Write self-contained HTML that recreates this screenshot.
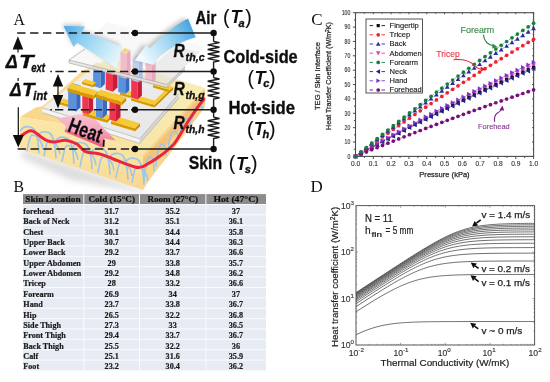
<!DOCTYPE html>
<html><head><meta charset="utf-8"><title>Figure</title>
<style>html,body{margin:0;padding:0;background:#fff;} svg{display:block;}</style></head>
<body><svg width="550" height="382" viewBox="0 0 550 382">
<rect width="550" height="382" fill="#fff"/>
<defs><filter id="soft" x="0" y="0" width="100%" height="100%"><feGaussianBlur stdDeviation="0.42"/></filter></defs>
<g filter="url(#soft)">
<rect width="550" height="382" fill="#fff"/>
<defs><filter id="blur3" x="-20%" y="-20%" width="140%" height="140%"><feGaussianBlur stdDeviation="3"/></filter><filter id="blur1" x="-20%" y="-20%" width="140%" height="140%"><feGaussianBlur stdDeviation="1.2"/></filter><filter id="blur2" x="-30%" y="-30%" width="160%" height="160%"><feGaussianBlur stdDeviation="2.2"/></filter><linearGradient id="skinFront" x1="0" y1="0" x2="0" y2="1"><stop offset="0" stop-color="#fae6a6"/><stop offset="0.6" stop-color="#fae2a0"/><stop offset="1" stop-color="#f8d690"/></linearGradient><linearGradient id="skinTop" gradientUnits="userSpaceOnUse" x1="30" y1="110" x2="190" y2="95"><stop offset="0" stop-color="#f9d68a"/><stop offset="0.5" stop-color="#f9e2a0"/><stop offset="1" stop-color="#f7ecb4"/></linearGradient><linearGradient id="skinRight" x1="0" y1="0" x2="1" y2="0"><stop offset="0" stop-color="#f8d890"/><stop offset="1" stop-color="#f7d088"/></linearGradient><linearGradient id="arrL" gradientUnits="userSpaceOnUse" x1="66" y1="28" x2="118" y2="62"><stop offset="0" stop-color="#52aee8"/><stop offset="0.3" stop-color="#8ccef2"/><stop offset="0.75" stop-color="#c8eaf8"/><stop offset="1" stop-color="#e8f6fc"/></linearGradient><linearGradient id="arrR" gradientUnits="userSpaceOnUse" x1="192" y1="26" x2="142" y2="58"><stop offset="0" stop-color="#48a4e0"/><stop offset="0.45" stop-color="#9cd4f2"/><stop offset="1" stop-color="#f2fafe"/></linearGradient><linearGradient id="pinkA" x1="0" y1="0" x2="0" y2="1"><stop offset="0" stop-color="#f8c4d2"/><stop offset="0.5" stop-color="#f5a6bc"/><stop offset="1" stop-color="#ee6a8c"/></linearGradient><linearGradient id="plateTop" x1="0" y1="0" x2="1" y2="1"><stop offset="0" stop-color="#f2f2f2"/><stop offset="1" stop-color="#e6e6e6"/></linearGradient></defs>
<polygon points="22.0,149.0 143.0,190.0 150.0,194.0 70.0,180.0 22.0,158.0" fill="#c8c8c8" filter="url(#blur3)" opacity="0.6"/>
<polygon points="20.0,117.0 61.0,123.5 143.0,154.0 205.0,88.0 110.0,58.0 82.0,71.0 50.0,100.0 42.0,106.5 36.0,107.2" fill="url(#skinTop)" />
<polygon points="20.0,117.0 61.0,123.5 143.0,154.0 143.0,190.0 20.0,149.0" fill="url(#skinFront)" />
<polygon points="143.0,154.0 205.0,88.0 205.0,107.0 182.0,138.0 150.0,179.0 143.0,190.0" fill="url(#skinRight)" />
<polygon points="143.0,158.0 205.0,92.0 205.0,101.0 143.0,172.0" fill="#f3b468" opacity="0.55"/>
<path d="M20.0,131.3 C23.0,126.3 28.0,126.3 31.0,127.3 C35.0,128.3 38.0,133.3 39.0,153.3M27.0,151.3 C30.0,134.3 31.0,134.3 34.0,135.3 C38.0,136.3 42.0,141.3 43.0,149.3M37.0,136.4 C40.0,131.4 45.0,131.4 48.0,132.4 C52.0,133.4 55.0,138.4 56.0,158.4M44.0,156.4 C47.0,139.4 48.0,139.4 51.0,140.4 C55.0,141.4 59.0,146.4 60.0,154.4M55.0,141.8 C58.0,136.8 63.0,136.8 66.0,137.8 C70.0,138.8 73.0,143.8 74.0,163.8M62.0,161.8 C65.0,144.8 66.0,144.8 69.0,145.8 C73.0,146.8 77.0,151.8 78.0,159.8M73.0,147.2 C76.0,142.2 81.0,142.2 84.0,143.2 C88.0,144.2 91.0,149.2 92.0,169.2M80.0,167.2 C83.0,150.2 84.0,150.2 87.0,151.2 C91.0,152.2 95.0,157.2 96.0,165.2M91.0,152.6 C94.0,147.6 99.0,147.6 102.0,148.6 C106.0,149.6 109.0,154.6 110.0,174.6M98.0,172.6 C101.0,155.6 102.0,155.6 105.0,156.6 C109.0,157.6 113.0,162.6 114.0,170.6M109.0,158.0 C112.0,153.0 117.0,153.0 120.0,154.0 C124.0,155.0 127.0,160.0 128.0,180.0M116.0,178.0 C119.0,161.0 120.0,161.0 123.0,162.0 C127.0,163.0 131.0,168.0 132.0,176.0M125.0,162.8 C128.0,157.8 133.0,157.8 136.0,158.8 C140.0,159.8 143.0,164.8 144.0,184.8M132.0,182.8 C135.0,165.8 136.0,165.8 139.0,166.8 C143.0,167.8 147.0,172.8 148.0,180.8M144.0,182.4 C145.0,161.9 148.0,155.9 151.0,156.9 C154.0,158.9 154.0,165.4 154.0,171.4M156.0,166.9 C157.0,149.1 160.0,143.1 163.0,144.1 C166.0,146.1 166.0,149.9 166.0,155.9M168.0,151.5 C169.0,136.3 172.0,130.3 175.0,131.3 C178.0,133.3 178.0,134.5 178.0,140.5M180.0,136.0 C181.0,123.5 184.0,117.5 187.0,118.5 C190.0,120.5 190.0,119.0 190.0,125.0M192.0,120.5 C193.0,110.8 196.0,104.8 199.0,105.8 C202.0,107.8 202.0,103.5 202.0,109.5" stroke="#9ec6ec" stroke-width="1.6" fill="none"/>
<path d="M21,136 C25,133 28,130.5 31,130.7 C35,131 38,135 42.5,138 C47,141 51,142.5 55,142 C59,141.5 62,140 65.5,140.3 C70,141 74,142.5 77,144 C80,146 82,150 85,151.3 C89,153 92,152.8 96,153.2 C102,154 106,156 112,158.5 C120,161.5 128,165 135,167 C140,168.5 143,167 146,165 C151,162 155,160 160,156 C166,152 170,148 174,144 C180,136 186,124 191,117 C195,111 199,105 204,99" stroke="#e8283c" stroke-width="3" fill="none" stroke-linecap="round"/>
<polygon points="42.4,107.9 139.7,138.8 179.0,93.5 95.0,66.0" fill="url(#plateTop)" />
<polygon points="42.4,107.9 139.7,138.8 139.7,143.5 42.4,112.6" fill="#f4f4f4" />
<polygon points="139.7,138.8 179.0,93.5 179.0,98.0 139.7,143.5" fill="#d6d6d6" />
<path d="M42.4,112.6 L139.7,143.5 L179,98 M42.4,107.9 L139.7,138.8 L179,93.5" stroke="#a8a8a8" stroke-width="0.6" fill="none"/>
<path d="M56.5,118.5 L89,112.5 L115.5,140.5 L104,138.5 L102.2,147.5 L64.6,131.7 L65.9,126 Z" fill="url(#pinkA)"/>
<path d="M64.6,131.7 L102.2,147 L102.6,144 L65.6,129 Z" fill="#ee5a80" opacity="0.8"/>
<polygon points="60.0,104.5 69.0,107.2 69.0,104.6 60.0,101.9" fill="#d99a00" /><polygon points="69.0,107.2 72.5,103.8 72.5,101.2 69.0,104.6" fill="#c88c00" /><polygon points="60.0,101.9 69.0,104.6 72.5,101.2 63.5,98.5" fill="#f7c935" />
<polygon points="83.0,115.5 107.0,122.7 107.0,119.7 83.0,112.5" fill="#d99a00" /><polygon points="107.0,122.7 111.0,118.8 111.0,115.8 107.0,119.7" fill="#c88c00" /><polygon points="83.0,112.5 107.0,119.7 111.0,115.8 87.0,108.6" fill="#f7c935" />
<polygon points="111.0,124.0 135.0,131.2 135.0,128.2 111.0,121.0" fill="#d99a00" /><polygon points="135.0,131.2 140.0,126.3 140.0,123.3 135.0,128.2" fill="#c88c00" /><polygon points="111.0,121.0 135.0,128.2 140.0,123.3 116.0,116.2" fill="#f7c935" />
<polygon points="131.0,100.5 152.0,106.8 152.0,104.2 131.0,97.9" fill="#d99a00" /><polygon points="152.0,106.8 155.5,103.4 155.5,100.8 152.0,104.2" fill="#c88c00" /><polygon points="131.0,97.9 152.0,104.2 155.5,100.8 134.5,94.5" fill="#f7c935" />
<polygon points="151.0,106.5 154.5,107.5 154.5,105.0 151.0,103.9" fill="#d99a00" /><polygon points="154.5,107.5 172.5,90.1 172.5,87.5 154.5,105.0" fill="#c88c00" /><polygon points="151.0,103.9 154.5,105.0 172.5,87.5 169.0,86.4" fill="#f7c935" />
<polygon points="153.0,87.5 170.0,92.6 170.0,90.0 153.0,84.9" fill="#d99a00" /><polygon points="170.0,92.6 173.0,89.7 173.0,87.1 170.0,90.0" fill="#c88c00" /><polygon points="153.0,84.9 170.0,90.0 173.0,87.1 156.0,82.0" fill="#f7c935" />
<polygon points="120.0,95.0 130.0,98.0 130.0,95.4 120.0,92.4" fill="#d99a00" /><polygon points="130.0,98.0 133.5,94.6 133.5,92.0 130.0,95.4" fill="#c88c00" /><polygon points="120.0,92.4 130.0,95.4 133.5,92.0 123.5,89.0" fill="#f7c935" />
<polygon points="93.1,86.0 100.6,88.2 100.6,72.2 93.1,70.0" fill="#5a92e0" /><polygon points="100.6,88.2 104.9,84.1 104.9,68.1 100.6,72.2" fill="#3b6bc2" /><polygon points="93.1,70.0 100.6,72.2 104.9,68.1 97.4,65.8" fill="#86aef0" />
<polygon points="105.7,89.5 113.0,91.7 113.0,74.7 105.7,72.5" fill="#f2364f" /><polygon points="113.0,91.7 117.5,87.3 117.5,70.3 113.0,74.7" fill="#c91f3a" /><polygon points="105.7,72.5 113.0,74.7 117.5,70.3 110.2,68.1" fill="#f7788a" />
<polygon points="118.3,92.0 125.3,94.1 125.3,77.1 118.3,75.0" fill="#5a92e0" /><polygon points="125.3,94.1 129.3,90.2 129.3,73.2 125.3,77.1" fill="#3b6bc2" /><polygon points="118.3,75.0 125.3,77.1 129.3,73.2 122.3,71.1" fill="#86aef0" />
<polygon points="131.2,97.5 137.7,99.5 137.7,81.0 131.2,79.0" fill="#f2364f" /><polygon points="137.7,99.5 141.9,95.4 141.9,76.9 137.7,81.0" fill="#c91f3a" /><polygon points="131.2,79.0 137.7,81.0 141.9,76.9 135.4,74.9" fill="#f7788a" />
<polygon points="92.0,66.0 137.0,78.5 141.0,75.0 96.0,62.5" fill="#eed68a" />
<polygon points="92.0,66.0 137.0,78.5 137.0,80.5 92.0,68.0" fill="#e2c270" />
<polygon points="68.2,109.0 76.2,111.4 76.2,89.4 68.2,87.0" fill="#5a92e0" /><polygon points="76.2,111.4 80.4,107.3 80.4,85.3 76.2,89.4" fill="#3b6bc2" /><polygon points="68.2,87.0 76.2,89.4 80.4,85.3 72.4,82.9" fill="#86aef0" />
<polygon points="82.3,112.4 88.7,114.3 88.7,94.3 82.3,92.4" fill="#f2364f" /><polygon points="88.7,114.3 93.1,110.1 93.1,90.1 88.7,94.3" fill="#c91f3a" /><polygon points="82.3,92.4 88.7,94.3 93.1,90.1 86.7,88.1" fill="#f7788a" />
<polygon points="96.0,116.5 102.5,118.5 102.5,96.5 96.0,94.5" fill="#5a92e0" /><polygon points="102.5,118.5 107.0,114.1 107.0,92.1 102.5,96.5" fill="#3b6bc2" /><polygon points="96.0,94.5 102.5,96.5 107.0,92.1 100.5,90.1" fill="#86aef0" />
<polygon points="109.5,119.5 116.0,121.5 116.0,100.0 109.5,98.0" fill="#f2364f" /><polygon points="116.0,121.5 120.5,117.1 120.5,95.6 116.0,100.0" fill="#c91f3a" /><polygon points="109.5,98.0 116.0,100.0 120.5,95.6 114.0,93.6" fill="#f7788a" />
<polygon points="67.5,91.5 93.5,99.3 93.5,95.8 67.5,88.0" fill="#d99a00" /><polygon points="93.5,99.3 98.1,94.8 98.1,91.3 93.5,95.8" fill="#c88c00" /><polygon points="67.5,88.0 93.5,95.8 98.1,91.3 72.1,83.5" fill="#f7c935" />
<polygon points="96.0,97.8 121.5,105.5 121.5,102.0 96.0,94.3" fill="#d99a00" /><polygon points="121.5,105.5 126.1,101.0 126.1,97.5 121.5,102.0" fill="#c88c00" /><polygon points="96.0,94.3 121.5,102.0 126.1,97.5 100.6,89.8" fill="#f7c935" />
<polygon points="82.0,84.0 93.0,87.3 93.0,85.1 82.0,81.8" fill="#d99a00" /><polygon points="93.0,87.3 96.0,84.4 96.0,82.2 93.0,85.1" fill="#c88c00" /><polygon points="82.0,81.8 93.0,85.1 96.0,82.2 85.0,78.9" fill="#f7c935" />
<polygon points="69.0,60.0 167.0,84.5 205.0,47.0 107.0,22.0" fill="#f2f2f2" opacity="0.55"/>
<polygon points="140.0,78.0 167.0,84.5 200.0,52.0 175.0,46.0" fill="#d8d8d8" opacity="0.35"/>
<polygon points="120.5,77.0 126.5,78.8 126.5,53.8 120.5,52.0" fill="#f2bccb" /><polygon points="126.5,78.8 130.5,74.9 130.5,49.9 126.5,53.8" fill="#e8aabb" /><polygon points="120.5,52.0 126.5,53.8 130.5,49.9 124.5,48.1" fill="#f0d890" />
<polygon points="132.6,80.5 138.6,82.3 138.6,60.8 132.6,59.0" fill="#bed0ee" /><polygon points="138.6,82.3 142.6,78.4 142.6,56.9 138.6,60.8" fill="#a9c0e6" /><polygon points="132.6,59.0 138.6,60.8 142.6,56.9 136.6,55.1" fill="#d4e0f4" />
<polygon points="145.6,82.5 151.6,84.3 151.6,62.3 145.6,60.5" fill="#f2bccb" /><polygon points="151.6,84.3 155.6,80.4 155.6,58.4 151.6,62.3" fill="#e8aabb" /><polygon points="145.6,60.5 151.6,62.3 155.6,58.4 149.6,56.6" fill="#f0d890" />
<polygon points="69.0,60.0 167.0,84.5 167.0,87.5 69.0,63.0" fill="#e4e4e4" opacity="0.85"/>
<polygon points="167.0,84.5 185.0,66.8 185.0,69.8 167.0,87.5" fill="#d0d0d0" opacity="0.85"/>
<path d="M69,60 L167,84.5 L185,66.8 M69,60 L69,63 L167,87.5 L185,69.8 M69,60 L85,49" stroke="#9a9a9a" stroke-width="0.6" fill="none"/>
<path d="M63.6,26 L85,26.5 L82,31.5 C95,36 110,41 121,47 L117,69 C105,60 90,51 77.5,43 L73.5,47 Z" fill="#808080" opacity="0.45" filter="url(#blur2)" transform="translate(-1,-2)"/>
<path d="M63.6,26 L85,26.5 L82,31.5 C95,36 110,41 121,47 L117,69 C105,60 90,51 77.5,43 L73.5,47 Z" fill="url(#arrL)"/>
<path d="M134.9,60.3 L146.4,44.6 L149.5,48.5 C160,38 174,26 188,18.6 L195.7,37.3 C182,41 168,49 157,59 L154,65 Z" fill="#808080" opacity="0.45" filter="url(#blur2)" transform="translate(-3,-1)"/>
<path d="M134.9,60.3 L146.4,44.6 L149.5,48.5 C160,38 174,26 188,18.6 L195.7,37.3 C182,41 168,49 157,59 L154,65 Z" fill="url(#arrR)"/>
<text transform="translate(66.8,131) rotate(20)" font-family="Liberation Sans, Arial, sans-serif" font-weight="bold" font-size="21" fill="#111" stroke="#111" stroke-width="0.3" textLength="34.5" lengthAdjust="spacingAndGlyphs">Heat</text>
<path d="M103.9,139.8 L103.5,146.8" stroke="#111" stroke-width="1.8"/>
<g stroke="#1a1a1a" stroke-width="1.6" fill="none"><path d="M17.2,33H131M55.4,71.5H131M55,109.8H131M17.6,149H131" stroke-dasharray="8.3,4.6"/><path d="M50.3,71.5h1.6M50.3,109.8h1.6" /><path d="M131,33H213.6M131,71.5H213.6M131,109.8H213.6M131,149H213.6" stroke-width="1.4"/></g>
<path d="M213.6,33V41.5M213.6,41.5 L219.5,42.6 L207.7,44.9 L219.5,47.2 L207.7,49.5 L219.5,51.8 L207.7,54.0 L219.5,56.3 L207.7,58.6 L219.5,60.9 L213.6,62.0V71.5V77.8M213.6,77.8 L219.5,79.0 L207.7,81.3 L219.5,83.7 L207.7,86.0 L219.5,88.4 L207.7,90.8 L219.5,93.1 L207.7,95.5 L219.5,97.8 L213.6,99.0V109.8V117.3M213.6,117.3 L219.5,118.5 L207.7,120.8 L219.5,123.2 L207.7,125.5 L219.5,127.9 L207.7,130.3 L219.5,132.6 L207.7,135.0 L219.5,137.3 L213.6,138.5V149" stroke="#1a1a1a" stroke-width="1.4" fill="none" stroke-linejoin="miter"/>
<g fill="#111"><circle cx="135" cy="33" r="3.2"/><circle cx="135" cy="71.5" r="3.2"/><circle cx="135" cy="109.8" r="3.2"/><circle cx="135" cy="149" r="3.2"/><circle cx="213.6" cy="33" r="3.2"/><circle cx="213.6" cy="71.5" r="3.2"/><circle cx="213.6" cy="109.8" r="3.2"/><circle cx="213.6" cy="149" r="3.2"/></g>
<g fill="#111" stroke="none"><path d="M17.9,36.3 L23.3,49.6 L12.6,49.6 Z"/><path d="M18.3,147.6 L23.8,135 L12.8,135 Z"/><path d="M58,73.9 L63.2,86.4 L52.8,86.4 Z"/><path d="M58,108.6 L63.2,94.9 L52.8,94.9 Z"/></g>
<path d="M18,49V52.5M18.1,77.9V81.1M18.3,107.3V136M58,86V95" stroke="#111" stroke-width="1.2"/>
<text x="13.4" y="25.4" font-family="Liberation Serif, Times New Roman, serif" font-size="15.8" fill="#111">A</text>
<text x="5.8" y="67.7" font-family="Liberation Sans, Arial, sans-serif" font-weight="bold" fill="#111" stroke="#111" stroke-width="0.35" font-style="italic" font-size="17.5" textLength="12" lengthAdjust="spacingAndGlyphs">Δ</text>
<text x="19" y="67.7" font-family="Liberation Sans, Arial, sans-serif" font-weight="bold" fill="#111" stroke="#111" stroke-width="0.35" font-style="italic" font-size="17.5" textLength="14.5" lengthAdjust="spacingAndGlyphs">T</text>
<text x="31.2" y="71.9" font-family="Liberation Sans, Arial, sans-serif" font-weight="bold" fill="#111" stroke="#111" stroke-width="0.35" font-style="italic" font-size="13" textLength="13.8" lengthAdjust="spacingAndGlyphs">ext</text>
<text x="10" y="95.5" font-family="Liberation Sans, Arial, sans-serif" font-weight="bold" fill="#111" stroke="#111" stroke-width="0.35" font-style="italic" font-size="17.5" textLength="11.5" lengthAdjust="spacingAndGlyphs">Δ</text>
<text x="22" y="95.5" font-family="Liberation Sans, Arial, sans-serif" font-weight="bold" fill="#111" stroke="#111" stroke-width="0.35" font-style="italic" font-size="17.5" textLength="12.5" lengthAdjust="spacingAndGlyphs">T</text>
<text x="33.3" y="100.2" font-family="Liberation Sans, Arial, sans-serif" font-weight="bold" fill="#111" stroke="#111" stroke-width="0.35" font-style="italic" font-size="13" textLength="13.6" lengthAdjust="spacingAndGlyphs">int</text>
<text x="195.5" y="23.6" font-family="Liberation Sans, Arial, sans-serif" font-weight="bold" fill="#111" stroke="#111" stroke-width="0.35" font-size="17.5" textLength="20.9" lengthAdjust="spacingAndGlyphs">Air</text>
<text x="223.4" y="63.2" font-family="Liberation Sans, Arial, sans-serif" font-weight="bold" fill="#111" stroke="#111" stroke-width="0.35" font-size="17.5" textLength="74.3" lengthAdjust="spacingAndGlyphs">Cold-side</text>
<text x="228.4" y="113.8" font-family="Liberation Sans, Arial, sans-serif" font-weight="bold" fill="#111" stroke="#111" stroke-width="0.35" font-size="17.5" textLength="66.5" lengthAdjust="spacingAndGlyphs">Hot-side</text>
<text x="188.8" y="169.2" font-family="Liberation Sans, Arial, sans-serif" font-weight="bold" fill="#111" stroke="#111" stroke-width="0.35" font-size="17.5" textLength="33.2" lengthAdjust="spacingAndGlyphs">Skin</text>
<text x="223.0" y="24.0" font-family="Liberation Sans, Arial, sans-serif" fill="#111" font-size="19.5" stroke="#111" stroke-width="0.1">(</text><text x="230.5" y="23.2" font-family="Liberation Sans, Arial, sans-serif" font-weight="bold" fill="#111" font-style="italic" font-size="18">T</text><text x="238.6" y="26.5" font-family="Liberation Sans, Arial, sans-serif" font-weight="bold" fill="#111" stroke="#111" stroke-width="0.35" font-style="italic" font-size="11">a</text><text x="245.2" y="24.0" font-family="Liberation Sans, Arial, sans-serif" fill="#111" font-size="19.5" stroke="#111" stroke-width="0.1">)</text>
<text x="247.4" y="84.5" font-family="Liberation Sans, Arial, sans-serif" fill="#111" font-size="19.5" stroke="#111" stroke-width="0.1">(</text><text x="254.6" y="83.7" font-family="Liberation Sans, Arial, sans-serif" font-weight="bold" fill="#111" font-style="italic" font-size="18">T</text><text x="263.3" y="87.0" font-family="Liberation Sans, Arial, sans-serif" font-weight="bold" fill="#111" stroke="#111" stroke-width="0.35" font-style="italic" font-size="11">c</text><text x="269.1" y="84.5" font-family="Liberation Sans, Arial, sans-serif" fill="#111" font-size="19.5" stroke="#111" stroke-width="0.1">)</text>
<text x="247.0" y="135.7" font-family="Liberation Sans, Arial, sans-serif" fill="#111" font-size="19.5" stroke="#111" stroke-width="0.1">(</text><text x="253.7" y="134.9" font-family="Liberation Sans, Arial, sans-serif" font-weight="bold" fill="#111" font-style="italic" font-size="18">T</text><text x="262.5" y="138.2" font-family="Liberation Sans, Arial, sans-serif" font-weight="bold" fill="#111" stroke="#111" stroke-width="0.35" font-style="italic" font-size="11">h</text><text x="269.1" y="135.7" font-family="Liberation Sans, Arial, sans-serif" fill="#111" font-size="19.5" stroke="#111" stroke-width="0.1">)</text>
<text x="228.8" y="170.4" font-family="Liberation Sans, Arial, sans-serif" fill="#111" font-size="19.5" stroke="#111" stroke-width="0.1">(</text><text x="235.9" y="169.6" font-family="Liberation Sans, Arial, sans-serif" font-weight="bold" fill="#111" font-style="italic" font-size="18">T</text><text x="244.8" y="172.9" font-family="Liberation Sans, Arial, sans-serif" font-weight="bold" fill="#111" stroke="#111" stroke-width="0.35" font-style="italic" font-size="11">s</text><text x="251.0" y="170.4" font-family="Liberation Sans, Arial, sans-serif" fill="#111" font-size="19.5" stroke="#111" stroke-width="0.1">)</text>
<text x="173.4" y="57.4" font-family="Liberation Sans, Arial, sans-serif" font-weight="bold" fill="#111" stroke="#111" stroke-width="0.35" font-style="italic" font-size="18" textLength="11.2" lengthAdjust="spacingAndGlyphs">R</text><text x="185.6" y="61.4" font-family="Liberation Sans, Arial, sans-serif" font-weight="bold" fill="#111" stroke="#111" stroke-width="0.35" font-style="italic" font-size="11" textLength="19" lengthAdjust="spacingAndGlyphs">th,c</text>
<text x="173.4" y="95" font-family="Liberation Sans, Arial, sans-serif" font-weight="bold" fill="#111" stroke="#111" stroke-width="0.35" font-style="italic" font-size="18" textLength="11.2" lengthAdjust="spacingAndGlyphs">R</text><text x="185.6" y="99" font-family="Liberation Sans, Arial, sans-serif" font-weight="bold" fill="#111" stroke="#111" stroke-width="0.35" font-style="italic" font-size="11" textLength="19" lengthAdjust="spacingAndGlyphs">th,g</text>
<text x="173.4" y="129.4" font-family="Liberation Sans, Arial, sans-serif" font-weight="bold" fill="#111" stroke="#111" stroke-width="0.35" font-style="italic" font-size="18" textLength="11.2" lengthAdjust="spacingAndGlyphs">R</text><text x="185.6" y="133.4" font-family="Liberation Sans, Arial, sans-serif" font-weight="bold" fill="#111" stroke="#111" stroke-width="0.35" font-style="italic" font-size="11" textLength="19" lengthAdjust="spacingAndGlyphs">th,h</text>
<text x="13.6" y="192.2" font-family="Liberation Serif, Times New Roman, serif" font-size="15.8" fill="#111">B</text>
<rect x="23.0" y="194.1" width="243.0" height="10.4" fill="#8c8c8c"/>
<rect x="23.0" y="204.50" width="243.0" height="165.92" fill="#e7ebf3"/>
<path d="M23.0,204.50H266.0M23.0,214.87H266.0M23.0,225.24H266.0M23.0,235.61H266.0M23.0,245.98H266.0M23.0,256.35H266.0M23.0,266.72H266.0M23.0,277.09H266.0M23.0,287.46H266.0M23.0,297.83H266.0M23.0,308.20H266.0M23.0,318.57H266.0M23.0,328.94H266.0M23.0,339.31H266.0M23.0,349.68H266.0M23.0,360.05H266.0M83.8,194.1V370.42M139.5,194.1V370.42M205.9,194.1V370.42" stroke="#fafbfd" stroke-width="1.0" fill="none"/>
<g font-family="Liberation Serif, Times New Roman, serif" font-weight="bold" font-size="9" fill="#111" stroke="#111" stroke-width="0.2"><text x="25.3" y="202.4" textLength="55.3" lengthAdjust="spacingAndGlyphs">Skin Location</text><text x="111.7" y="202.4" text-anchor="middle" textLength="46.5" lengthAdjust="spacingAndGlyphs">Cold (15°C)</text><text x="172.7" y="202.4" text-anchor="middle" textLength="50.5" lengthAdjust="spacingAndGlyphs">Room (27°C)</text><text x="235.9" y="202.4" text-anchor="middle" textLength="45.0" lengthAdjust="spacingAndGlyphs">Hot (47°C)</text></g>
<g font-family="Liberation Serif, Times New Roman, serif" font-weight="bold" font-size="8.5" fill="#1a1a1a" stroke="#1a1a1a" stroke-width="0.2"><text x="23.3" y="213.90" textLength="30.6" lengthAdjust="spacingAndGlyphs">forehead</text><text x="111.7" y="213.90" text-anchor="middle" textLength="14.3" lengthAdjust="spacingAndGlyphs">31.7</text><text x="172.7" y="213.90" text-anchor="middle" textLength="14.3" lengthAdjust="spacingAndGlyphs">35.2</text><text x="235.9" y="213.90" text-anchor="middle" textLength="8.2" lengthAdjust="spacingAndGlyphs">37</text><text x="23.3" y="224.27" textLength="46.2" lengthAdjust="spacingAndGlyphs">Back of Neck</text><text x="111.7" y="224.27" text-anchor="middle" textLength="14.3" lengthAdjust="spacingAndGlyphs">31.2</text><text x="172.7" y="224.27" text-anchor="middle" textLength="14.3" lengthAdjust="spacingAndGlyphs">35.1</text><text x="235.9" y="224.27" text-anchor="middle" textLength="14.3" lengthAdjust="spacingAndGlyphs">36.1</text><text x="23.3" y="234.64" textLength="19.9" lengthAdjust="spacingAndGlyphs">Chest</text><text x="111.7" y="234.64" text-anchor="middle" textLength="14.3" lengthAdjust="spacingAndGlyphs">30.1</text><text x="172.7" y="234.64" text-anchor="middle" textLength="14.3" lengthAdjust="spacingAndGlyphs">34.4</text><text x="235.9" y="234.64" text-anchor="middle" textLength="14.3" lengthAdjust="spacingAndGlyphs">35.8</text><text x="23.3" y="245.01" textLength="41.7" lengthAdjust="spacingAndGlyphs">Upper Back</text><text x="111.7" y="245.01" text-anchor="middle" textLength="14.3" lengthAdjust="spacingAndGlyphs">30.7</text><text x="172.7" y="245.01" text-anchor="middle" textLength="14.3" lengthAdjust="spacingAndGlyphs">34.4</text><text x="235.9" y="245.01" text-anchor="middle" textLength="14.3" lengthAdjust="spacingAndGlyphs">36.3</text><text x="23.3" y="255.38" textLength="42.2" lengthAdjust="spacingAndGlyphs">Lower Back</text><text x="111.7" y="255.38" text-anchor="middle" textLength="14.3" lengthAdjust="spacingAndGlyphs">29.2</text><text x="172.7" y="255.38" text-anchor="middle" textLength="14.3" lengthAdjust="spacingAndGlyphs">33.7</text><text x="235.9" y="255.38" text-anchor="middle" textLength="14.3" lengthAdjust="spacingAndGlyphs">36.6</text><text x="23.3" y="265.75" textLength="57.6" lengthAdjust="spacingAndGlyphs">Upper Abdomen</text><text x="111.7" y="265.75" text-anchor="middle" textLength="8.2" lengthAdjust="spacingAndGlyphs">29</text><text x="172.7" y="265.75" text-anchor="middle" textLength="14.3" lengthAdjust="spacingAndGlyphs">33.8</text><text x="235.9" y="265.75" text-anchor="middle" textLength="14.3" lengthAdjust="spacingAndGlyphs">35.7</text><text x="23.3" y="276.12" textLength="58.0" lengthAdjust="spacingAndGlyphs">Lower Abdomen</text><text x="111.7" y="276.12" text-anchor="middle" textLength="14.3" lengthAdjust="spacingAndGlyphs">29.2</text><text x="172.7" y="276.12" text-anchor="middle" textLength="14.3" lengthAdjust="spacingAndGlyphs">34.8</text><text x="235.9" y="276.12" text-anchor="middle" textLength="14.3" lengthAdjust="spacingAndGlyphs">36.2</text><text x="23.3" y="286.49" textLength="22.5" lengthAdjust="spacingAndGlyphs">Tricep</text><text x="111.7" y="286.49" text-anchor="middle" textLength="8.2" lengthAdjust="spacingAndGlyphs">28</text><text x="172.7" y="286.49" text-anchor="middle" textLength="14.3" lengthAdjust="spacingAndGlyphs">33.2</text><text x="235.9" y="286.49" text-anchor="middle" textLength="14.3" lengthAdjust="spacingAndGlyphs">36.6</text><text x="23.3" y="296.86" textLength="30.6" lengthAdjust="spacingAndGlyphs">Forearm</text><text x="111.7" y="296.86" text-anchor="middle" textLength="14.3" lengthAdjust="spacingAndGlyphs">26.9</text><text x="172.7" y="296.86" text-anchor="middle" textLength="8.2" lengthAdjust="spacingAndGlyphs">34</text><text x="235.9" y="296.86" text-anchor="middle" textLength="8.2" lengthAdjust="spacingAndGlyphs">37</text><text x="23.3" y="307.23" textLength="19.5" lengthAdjust="spacingAndGlyphs">Hand</text><text x="111.7" y="307.23" text-anchor="middle" textLength="14.3" lengthAdjust="spacingAndGlyphs">23.7</text><text x="172.7" y="307.23" text-anchor="middle" textLength="14.3" lengthAdjust="spacingAndGlyphs">33.8</text><text x="235.9" y="307.23" text-anchor="middle" textLength="14.3" lengthAdjust="spacingAndGlyphs">36.7</text><text x="23.3" y="317.60" textLength="13.1" lengthAdjust="spacingAndGlyphs">Hip</text><text x="111.7" y="317.60" text-anchor="middle" textLength="14.3" lengthAdjust="spacingAndGlyphs">26.5</text><text x="172.7" y="317.60" text-anchor="middle" textLength="14.3" lengthAdjust="spacingAndGlyphs">32.2</text><text x="235.9" y="317.60" text-anchor="middle" textLength="14.3" lengthAdjust="spacingAndGlyphs">36.8</text><text x="23.3" y="327.97" textLength="37.7" lengthAdjust="spacingAndGlyphs">Side Thigh</text><text x="111.7" y="327.97" text-anchor="middle" textLength="14.3" lengthAdjust="spacingAndGlyphs">27.3</text><text x="172.7" y="327.97" text-anchor="middle" textLength="8.2" lengthAdjust="spacingAndGlyphs">33</text><text x="235.9" y="327.97" text-anchor="middle" textLength="14.3" lengthAdjust="spacingAndGlyphs">36.5</text><text x="23.3" y="338.34" textLength="42.5" lengthAdjust="spacingAndGlyphs">Front Thigh</text><text x="111.7" y="338.34" text-anchor="middle" textLength="14.3" lengthAdjust="spacingAndGlyphs">29.4</text><text x="172.7" y="338.34" text-anchor="middle" textLength="14.3" lengthAdjust="spacingAndGlyphs">33.7</text><text x="235.9" y="338.34" text-anchor="middle" textLength="14.3" lengthAdjust="spacingAndGlyphs">36.7</text><text x="23.3" y="348.71" textLength="40.4" lengthAdjust="spacingAndGlyphs">Back Thigh</text><text x="111.7" y="348.71" text-anchor="middle" textLength="14.3" lengthAdjust="spacingAndGlyphs">25.5</text><text x="172.7" y="348.71" text-anchor="middle" textLength="14.3" lengthAdjust="spacingAndGlyphs">32.2</text><text x="235.9" y="348.71" text-anchor="middle" textLength="8.2" lengthAdjust="spacingAndGlyphs">36</text><text x="23.3" y="359.08" textLength="14.9" lengthAdjust="spacingAndGlyphs">Calf</text><text x="111.7" y="359.08" text-anchor="middle" textLength="14.3" lengthAdjust="spacingAndGlyphs">25.1</text><text x="172.7" y="359.08" text-anchor="middle" textLength="14.3" lengthAdjust="spacingAndGlyphs">31.6</text><text x="235.9" y="359.08" text-anchor="middle" textLength="14.3" lengthAdjust="spacingAndGlyphs">35.9</text><text x="23.3" y="369.45" textLength="15.8" lengthAdjust="spacingAndGlyphs">Foot</text><text x="111.7" y="369.45" text-anchor="middle" textLength="14.3" lengthAdjust="spacingAndGlyphs">23.2</text><text x="172.7" y="369.45" text-anchor="middle" textLength="14.3" lengthAdjust="spacingAndGlyphs">30.4</text><text x="235.9" y="369.45" text-anchor="middle" textLength="14.3" lengthAdjust="spacingAndGlyphs">36.2</text></g>
<rect x="355.5" y="12.7" width="178.1" height="143.7" fill="none" stroke="#4d4d4d" stroke-width="1.1"/>
<path d="M355.5,156.40h-2.6M533.6,156.40h-1.6M355.5,149.22h-1.6M533.6,149.22h-1.0M355.5,142.03h-2.6M533.6,142.03h-1.6M355.5,134.84h-1.6M533.6,134.84h-1.0M355.5,127.66h-2.6M533.6,127.66h-1.6M355.5,120.47h-1.6M533.6,120.47h-1.0M355.5,113.29h-2.6M533.6,113.29h-1.6M355.5,106.10h-1.6M533.6,106.10h-1.0M355.5,98.92h-2.6M533.6,98.92h-1.6M355.5,91.73h-1.6M533.6,91.73h-1.0M355.5,84.55h-2.6M533.6,84.55h-1.6M355.5,77.36h-1.6M533.6,77.36h-1.0M355.5,70.18h-2.6M533.6,70.18h-1.6M355.5,62.99h-1.6M533.6,62.99h-1.0M355.5,55.81h-2.6M533.6,55.81h-1.6M355.5,48.62h-1.6M533.6,48.62h-1.0M355.5,41.44h-2.6M533.6,41.44h-1.6M355.5,34.25h-1.6M533.6,34.25h-1.0M355.5,27.07h-2.6M533.6,27.07h-1.6M355.5,19.88h-1.6M533.6,19.88h-1.0M355.5,12.70h-2.6M533.6,12.70h-1.6M355.50,156.4v2.6M355.50,12.7v1.6M364.40,156.4v1.6M364.40,12.7v1.0M373.31,156.4v2.6M373.31,12.7v1.6M382.22,156.4v1.6M382.22,12.7v1.0M391.12,156.4v2.6M391.12,12.7v1.6M400.02,156.4v1.6M400.02,12.7v1.0M408.93,156.4v2.6M408.93,12.7v1.6M417.84,156.4v1.6M417.84,12.7v1.0M426.74,156.4v2.6M426.74,12.7v1.6M435.64,156.4v1.6M435.64,12.7v1.0M444.55,156.4v2.6M444.55,12.7v1.6M453.46,156.4v1.6M453.46,12.7v1.0M462.36,156.4v2.6M462.36,12.7v1.6M471.26,156.4v1.6M471.26,12.7v1.0M480.17,156.4v2.6M480.17,12.7v1.6M489.08,156.4v1.6M489.08,12.7v1.0M497.98,156.4v2.6M497.98,12.7v1.6M506.89,156.4v1.6M506.89,12.7v1.0M515.79,156.4v2.6M515.79,12.7v1.6M524.70,156.4v1.6M524.70,12.7v1.0M533.60,156.4v2.6M533.60,12.7v1.6" stroke="#4d4d4d" stroke-width="1" fill="none"/>
<g font-family="Liberation Sans, Arial, sans-serif" font-size="6.6" fill="#3a3a3a" stroke="#3a3a3a" stroke-width="0.15"><text x="350.3" y="158.6" text-anchor="end" textLength="2.9" lengthAdjust="spacingAndGlyphs">0</text><text x="350.3" y="144.2" text-anchor="end" textLength="5.7" lengthAdjust="spacingAndGlyphs">10</text><text x="350.3" y="129.9" text-anchor="end" textLength="5.7" lengthAdjust="spacingAndGlyphs">20</text><text x="350.3" y="115.5" text-anchor="end" textLength="5.7" lengthAdjust="spacingAndGlyphs">30</text><text x="350.3" y="101.1" text-anchor="end" textLength="5.7" lengthAdjust="spacingAndGlyphs">40</text><text x="350.3" y="86.8" text-anchor="end" textLength="5.7" lengthAdjust="spacingAndGlyphs">50</text><text x="350.3" y="72.4" text-anchor="end" textLength="5.7" lengthAdjust="spacingAndGlyphs">60</text><text x="350.3" y="58.0" text-anchor="end" textLength="5.7" lengthAdjust="spacingAndGlyphs">70</text><text x="350.3" y="43.6" text-anchor="end" textLength="5.7" lengthAdjust="spacingAndGlyphs">80</text><text x="350.3" y="29.3" text-anchor="end" textLength="5.7" lengthAdjust="spacingAndGlyphs">90</text><text x="350.3" y="14.9" text-anchor="end" textLength="8.6" lengthAdjust="spacingAndGlyphs">100</text><text x="355.50" y="166.2" text-anchor="middle">0.0</text><text x="373.31" y="166.2" text-anchor="middle">0.1</text><text x="391.12" y="166.2" text-anchor="middle">0.2</text><text x="408.93" y="166.2" text-anchor="middle">0.3</text><text x="426.74" y="166.2" text-anchor="middle">0.4</text><text x="444.55" y="166.2" text-anchor="middle">0.5</text><text x="462.36" y="166.2" text-anchor="middle">0.6</text><text x="480.17" y="166.2" text-anchor="middle">0.7</text><text x="497.98" y="166.2" text-anchor="middle">0.8</text><text x="515.79" y="166.2" text-anchor="middle">0.9</text><text x="533.60" y="166.2" text-anchor="middle">1.0</text></g>
<text x="444.5" y="177.3" text-anchor="middle" font-family="Liberation Sans, Arial, sans-serif" font-size="7.4" fill="#2a2a2a" stroke="#2a2a2a" stroke-width="0.25" textLength="50.3" lengthAdjust="spacingAndGlyphs">Pressure (kPa)</text>
<g font-family="Liberation Sans, Arial, sans-serif" font-size="7.3" fill="#2a2a2a" stroke="#2a2a2a" stroke-width="0.25"><text transform="translate(320.4,76) rotate(-90)" text-anchor="middle" textLength="68" lengthAdjust="spacingAndGlyphs">TEG / Skin Interface</text><text transform="translate(331.2,76) rotate(-90)" text-anchor="middle" textLength="108" lengthAdjust="spacingAndGlyphs">Heat Transfer Coefficient (W/m<tspan font-size="5" dy="-2.5">2</tspan><tspan dy="2.5">K)</tspan></text></g>
<path d="M355.50,156.40 L360.90,153.34 L366.29,150.30 L371.69,147.28 L377.09,144.27 L382.48,141.28 L387.88,138.32 L393.28,135.37 L398.68,132.44 L404.07,129.52 L409.47,126.63 L414.87,123.75 L420.26,120.90 L425.66,118.06 L431.06,115.24 L436.45,112.43 L441.85,109.65 L447.25,106.89 L452.65,104.14 L458.04,101.41 L463.44,98.70 L468.84,96.01 L474.23,93.34 L479.63,90.68 L485.03,88.05 L490.42,85.43 L495.82,82.83 L501.22,80.25 L506.62,77.69 L512.01,75.14 L517.41,72.62 L522.81,70.11 L528.20,67.62 L533.60,65.15" stroke="#e040c0" stroke-width="0.7" stroke-dasharray="2,1.5" fill="none" opacity="0.8"/>
<g fill="#e040c0"><path d="M355.50,158.70L357.80,154.56L353.20,154.56Z"/><path d="M360.90,155.64L363.20,151.50L358.60,151.50Z"/><path d="M366.29,152.60L368.59,148.46L363.99,148.46Z"/><path d="M371.69,149.58L373.99,145.44L369.39,145.44Z"/><path d="M377.09,146.57L379.39,142.43L374.79,142.43Z"/><path d="M382.48,143.58L384.78,139.44L380.18,139.44Z"/><path d="M387.88,140.62L390.18,136.48L385.58,136.48Z"/><path d="M393.28,137.67L395.58,133.53L390.98,133.53Z"/><path d="M398.68,134.74L400.98,130.60L396.38,130.60Z"/><path d="M404.07,131.82L406.37,127.68L401.77,127.68Z"/><path d="M409.47,128.93L411.77,124.79L407.17,124.79Z"/><path d="M414.87,126.05L417.17,121.91L412.57,121.91Z"/><path d="M420.26,123.20L422.56,119.06L417.96,119.06Z"/><path d="M425.66,120.36L427.96,116.22L423.36,116.22Z"/><path d="M431.06,117.54L433.36,113.40L428.76,113.40Z"/><path d="M436.45,114.73L438.75,110.59L434.15,110.59Z"/><path d="M441.85,111.95L444.15,107.81L439.55,107.81Z"/><path d="M447.25,109.19L449.55,105.05L444.95,105.05Z"/><path d="M452.65,106.44L454.95,102.30L450.35,102.30Z"/><path d="M458.04,103.71L460.34,99.57L455.74,99.57Z"/><path d="M463.44,101.00L465.74,96.86L461.14,96.86Z"/><path d="M468.84,98.31L471.14,94.17L466.54,94.17Z"/><path d="M474.23,95.64L476.53,91.50L471.93,91.50Z"/><path d="M479.63,92.98L481.93,88.84L477.33,88.84Z"/><path d="M485.03,90.35L487.33,86.21L482.73,86.21Z"/><path d="M490.42,87.73L492.72,83.59L488.12,83.59Z"/><path d="M495.82,85.13L498.12,80.99L493.52,80.99Z"/><path d="M501.22,82.55L503.52,78.41L498.92,78.41Z"/><path d="M506.62,79.99L508.92,75.85L504.32,75.85Z"/><path d="M512.01,77.44L514.31,73.30L509.71,73.30Z"/><path d="M517.41,74.92L519.71,70.78L515.11,70.78Z"/><path d="M522.81,72.41L525.11,68.27L520.51,68.27Z"/><path d="M528.20,69.92L530.50,65.78L525.90,65.78Z"/><path d="M533.60,67.45L535.90,63.31L531.30,63.31Z"/></g>
<path d="M355.50,156.40 L360.90,153.41 L366.29,150.44 L371.69,147.49 L377.09,144.56 L382.48,141.64 L387.88,138.74 L393.28,135.86 L398.68,133.00 L404.07,130.16 L409.47,127.33 L414.87,124.52 L420.26,121.73 L425.66,118.96 L431.06,116.21 L436.45,113.47 L441.85,110.76 L447.25,108.06 L452.65,105.37 L458.04,102.71 L463.44,100.06 L468.84,97.44 L474.23,94.83 L479.63,92.23 L485.03,89.66 L490.42,87.10 L495.82,84.57 L501.22,82.05 L506.62,79.55 L512.01,77.06 L517.41,74.60 L522.81,72.15 L528.20,69.72 L533.60,67.31" stroke="#111111" stroke-width="0.7" stroke-dasharray="2,1.5" fill="none" opacity="0.8"/>
<g fill="#111111"><rect x="353.90" y="154.80" width="3.2" height="3.2"/><rect x="359.30" y="151.81" width="3.2" height="3.2"/><rect x="364.69" y="148.84" width="3.2" height="3.2"/><rect x="370.09" y="145.89" width="3.2" height="3.2"/><rect x="375.49" y="142.96" width="3.2" height="3.2"/><rect x="380.88" y="140.04" width="3.2" height="3.2"/><rect x="386.28" y="137.14" width="3.2" height="3.2"/><rect x="391.68" y="134.26" width="3.2" height="3.2"/><rect x="397.08" y="131.40" width="3.2" height="3.2"/><rect x="402.47" y="128.56" width="3.2" height="3.2"/><rect x="407.87" y="125.73" width="3.2" height="3.2"/><rect x="413.27" y="122.92" width="3.2" height="3.2"/><rect x="418.66" y="120.13" width="3.2" height="3.2"/><rect x="424.06" y="117.36" width="3.2" height="3.2"/><rect x="429.46" y="114.61" width="3.2" height="3.2"/><rect x="434.85" y="111.87" width="3.2" height="3.2"/><rect x="440.25" y="109.16" width="3.2" height="3.2"/><rect x="445.65" y="106.46" width="3.2" height="3.2"/><rect x="451.05" y="103.77" width="3.2" height="3.2"/><rect x="456.44" y="101.11" width="3.2" height="3.2"/><rect x="461.84" y="98.46" width="3.2" height="3.2"/><rect x="467.24" y="95.84" width="3.2" height="3.2"/><rect x="472.63" y="93.23" width="3.2" height="3.2"/><rect x="478.03" y="90.63" width="3.2" height="3.2"/><rect x="483.43" y="88.06" width="3.2" height="3.2"/><rect x="488.82" y="85.50" width="3.2" height="3.2"/><rect x="494.22" y="82.97" width="3.2" height="3.2"/><rect x="499.62" y="80.45" width="3.2" height="3.2"/><rect x="505.02" y="77.95" width="3.2" height="3.2"/><rect x="510.41" y="75.46" width="3.2" height="3.2"/><rect x="515.81" y="73.00" width="3.2" height="3.2"/><rect x="521.21" y="70.55" width="3.2" height="3.2"/><rect x="526.60" y="68.12" width="3.2" height="3.2"/><rect x="532.00" y="65.71" width="3.2" height="3.2"/></g>
<path d="M355.50,156.40 L360.90,153.46 L366.29,150.54 L371.69,147.63 L377.09,144.75 L382.48,141.88 L387.88,139.03 L393.28,136.19 L398.68,133.38 L404.07,130.58 L409.47,127.80 L414.87,125.04 L420.26,122.29 L425.66,119.57 L431.06,116.86 L436.45,114.17 L441.85,111.49 L447.25,108.84 L452.65,106.20 L458.04,103.58 L463.44,100.97 L468.84,98.39 L474.23,95.82 L479.63,93.27 L485.03,90.74 L490.42,88.22 L495.82,85.73 L501.22,83.25 L506.62,80.78 L512.01,78.34 L517.41,75.91 L522.81,73.51 L528.20,71.12 L533.60,68.74" stroke="#25208a" stroke-width="0.7" stroke-dasharray="2,1.5" fill="none" opacity="0.8"/>
<g fill="#25208a"><path d="M353.20,156.40L357.34,154.10L357.34,158.70Z"/><path d="M358.60,153.46L362.74,151.16L362.74,155.76Z"/><path d="M363.99,150.54L368.13,148.24L368.13,152.84Z"/><path d="M369.39,147.63L373.53,145.33L373.53,149.93Z"/><path d="M374.79,144.75L378.93,142.45L378.93,147.05Z"/><path d="M380.18,141.88L384.32,139.58L384.32,144.18Z"/><path d="M385.58,139.03L389.72,136.73L389.72,141.33Z"/><path d="M390.98,136.19L395.12,133.89L395.12,138.49Z"/><path d="M396.38,133.38L400.52,131.08L400.52,135.68Z"/><path d="M401.77,130.58L405.91,128.28L405.91,132.88Z"/><path d="M407.17,127.80L411.31,125.50L411.31,130.10Z"/><path d="M412.57,125.04L416.71,122.74L416.71,127.34Z"/><path d="M417.96,122.29L422.10,119.99L422.10,124.59Z"/><path d="M423.36,119.57L427.50,117.27L427.50,121.87Z"/><path d="M428.76,116.86L432.90,114.56L432.90,119.16Z"/><path d="M434.15,114.17L438.29,111.87L438.29,116.47Z"/><path d="M439.55,111.49L443.69,109.19L443.69,113.79Z"/><path d="M444.95,108.84L449.09,106.54L449.09,111.14Z"/><path d="M450.35,106.20L454.49,103.90L454.49,108.50Z"/><path d="M455.74,103.58L459.88,101.28L459.88,105.88Z"/><path d="M461.14,100.97L465.28,98.67L465.28,103.27Z"/><path d="M466.54,98.39L470.68,96.09L470.68,100.69Z"/><path d="M471.93,95.82L476.07,93.52L476.07,98.12Z"/><path d="M477.33,93.27L481.47,90.97L481.47,95.57Z"/><path d="M482.73,90.74L486.87,88.44L486.87,93.04Z"/><path d="M488.12,88.22L492.26,85.92L492.26,90.52Z"/><path d="M493.52,85.73L497.66,83.43L497.66,88.03Z"/><path d="M498.92,83.25L503.06,80.95L503.06,85.55Z"/><path d="M504.32,80.78L508.46,78.48L508.46,83.08Z"/><path d="M509.71,78.34L513.85,76.04L513.85,80.64Z"/><path d="M515.11,75.91L519.25,73.61L519.25,78.21Z"/><path d="M520.51,73.51L524.65,71.21L524.65,75.81Z"/><path d="M525.90,71.12L530.04,68.82L530.04,73.42Z"/><path d="M531.30,68.74L535.44,66.44L535.44,71.04Z"/></g>
<path d="M355.50,156.40 L360.90,153.24 L366.29,150.11 L371.69,146.99 L377.09,143.89 L382.48,140.81 L387.88,137.75 L393.28,134.70 L398.68,131.68 L404.07,128.68 L409.47,125.69 L414.87,122.72 L420.26,119.78 L425.66,116.85 L431.06,113.94 L436.45,111.05 L441.85,108.18 L447.25,105.33 L452.65,102.49 L458.04,99.68 L463.44,96.88 L468.84,94.11 L474.23,91.35 L479.63,88.61 L485.03,85.89 L490.42,83.19 L495.82,80.51 L501.22,77.85 L506.62,75.21 L512.01,72.58 L517.41,69.98 L522.81,67.39 L528.20,64.82 L533.60,62.28" stroke="#7a35c8" stroke-width="0.7" stroke-dasharray="2,1.5" fill="none" opacity="0.8"/>
<g fill="#7a35c8"><path d="M357.80,156.40L353.66,154.10L353.66,158.70Z"/><path d="M363.20,153.24L359.06,150.94L359.06,155.54Z"/><path d="M368.59,150.11L364.45,147.81L364.45,152.41Z"/><path d="M373.99,146.99L369.85,144.69L369.85,149.29Z"/><path d="M379.39,143.89L375.25,141.59L375.25,146.19Z"/><path d="M384.78,140.81L380.64,138.51L380.64,143.11Z"/><path d="M390.18,137.75L386.04,135.45L386.04,140.05Z"/><path d="M395.58,134.70L391.44,132.40L391.44,137.00Z"/><path d="M400.98,131.68L396.84,129.38L396.84,133.98Z"/><path d="M406.37,128.68L402.23,126.38L402.23,130.98Z"/><path d="M411.77,125.69L407.63,123.39L407.63,127.99Z"/><path d="M417.17,122.72L413.03,120.42L413.03,125.02Z"/><path d="M422.56,119.78L418.42,117.48L418.42,122.08Z"/><path d="M427.96,116.85L423.82,114.55L423.82,119.15Z"/><path d="M433.36,113.94L429.22,111.64L429.22,116.24Z"/><path d="M438.75,111.05L434.61,108.75L434.61,113.35Z"/><path d="M444.15,108.18L440.01,105.88L440.01,110.48Z"/><path d="M449.55,105.33L445.41,103.03L445.41,107.63Z"/><path d="M454.95,102.49L450.81,100.19L450.81,104.79Z"/><path d="M460.34,99.68L456.20,97.38L456.20,101.98Z"/><path d="M465.74,96.88L461.60,94.58L461.60,99.18Z"/><path d="M471.14,94.11L467.00,91.81L467.00,96.41Z"/><path d="M476.53,91.35L472.39,89.05L472.39,93.65Z"/><path d="M481.93,88.61L477.79,86.31L477.79,90.91Z"/><path d="M487.33,85.89L483.19,83.59L483.19,88.19Z"/><path d="M492.72,83.19L488.58,80.89L488.58,85.49Z"/><path d="M498.12,80.51L493.98,78.21L493.98,82.81Z"/><path d="M503.52,77.85L499.38,75.55L499.38,80.15Z"/><path d="M508.92,75.21L504.78,72.91L504.78,77.51Z"/><path d="M514.31,72.58L510.17,70.28L510.17,74.88Z"/><path d="M519.71,69.98L515.57,67.68L515.57,72.28Z"/><path d="M525.11,67.39L520.97,65.09L520.97,69.69Z"/><path d="M530.50,64.82L526.36,62.52L526.36,67.12Z"/><path d="M535.90,62.28L531.76,59.98L531.76,64.58Z"/></g>
<path d="M355.50,156.40 L360.90,154.17 L366.29,151.95 L371.69,149.75 L377.09,147.56 L382.48,145.38 L387.88,143.21 L393.28,141.06 L398.68,138.93 L404.07,136.80 L409.47,134.69 L414.87,132.60 L420.26,130.51 L425.66,128.44 L431.06,126.39 L436.45,124.34 L441.85,122.31 L447.25,120.30 L452.65,118.29 L458.04,116.31 L463.44,114.33 L468.84,112.37 L474.23,110.42 L479.63,108.48 L485.03,106.56 L490.42,104.65 L495.82,102.76 L501.22,100.88 L506.62,99.01 L512.01,97.15 L517.41,95.31 L522.81,93.48 L528.20,91.67 L533.60,89.87" stroke="#7a0a7a" stroke-width="0.7" stroke-dasharray="2,1.5" fill="none" opacity="0.8"/>
<g fill="#7a0a7a"><circle cx="355.50" cy="156.40" r="1.85"/><circle cx="360.90" cy="154.17" r="1.85"/><circle cx="366.29" cy="151.95" r="1.85"/><circle cx="371.69" cy="149.75" r="1.85"/><circle cx="377.09" cy="147.56" r="1.85"/><circle cx="382.48" cy="145.38" r="1.85"/><circle cx="387.88" cy="143.21" r="1.85"/><circle cx="393.28" cy="141.06" r="1.85"/><circle cx="398.68" cy="138.93" r="1.85"/><circle cx="404.07" cy="136.80" r="1.85"/><circle cx="409.47" cy="134.69" r="1.85"/><circle cx="414.87" cy="132.60" r="1.85"/><circle cx="420.26" cy="130.51" r="1.85"/><circle cx="425.66" cy="128.44" r="1.85"/><circle cx="431.06" cy="126.39" r="1.85"/><circle cx="436.45" cy="124.34" r="1.85"/><circle cx="441.85" cy="122.31" r="1.85"/><circle cx="447.25" cy="120.30" r="1.85"/><circle cx="452.65" cy="118.29" r="1.85"/><circle cx="458.04" cy="116.31" r="1.85"/><circle cx="463.44" cy="114.33" r="1.85"/><circle cx="468.84" cy="112.37" r="1.85"/><circle cx="474.23" cy="110.42" r="1.85"/><circle cx="479.63" cy="108.48" r="1.85"/><circle cx="485.03" cy="106.56" r="1.85"/><circle cx="490.42" cy="104.65" r="1.85"/><circle cx="495.82" cy="102.76" r="1.85"/><circle cx="501.22" cy="100.88" r="1.85"/><circle cx="506.62" cy="99.01" r="1.85"/><circle cx="512.01" cy="97.15" r="1.85"/><circle cx="517.41" cy="95.31" r="1.85"/><circle cx="522.81" cy="93.48" r="1.85"/><circle cx="528.20" cy="91.67" r="1.85"/><circle cx="533.60" cy="89.87" r="1.85"/></g>
<path d="M355.50,156.40 L360.90,152.47 L366.29,148.57 L371.69,144.69 L377.09,140.83 L382.48,137.00 L387.88,133.19 L393.28,129.40 L398.68,125.64 L404.07,121.90 L409.47,118.19 L414.87,114.50 L420.26,110.83 L425.66,107.19 L431.06,103.57 L436.45,99.97 L441.85,96.40 L447.25,92.85 L452.65,89.32 L458.04,85.82 L463.44,82.35 L468.84,78.89 L474.23,75.46 L479.63,72.05 L485.03,68.67 L490.42,65.31 L495.82,61.97 L501.22,58.66 L506.62,55.37 L512.01,52.11 L517.41,48.87 L522.81,45.65 L528.20,42.45 L533.60,39.28" stroke="#f02030" stroke-width="0.7" stroke-dasharray="2,1.5" fill="none" opacity="0.8"/>
<g fill="#f02030"><circle cx="355.50" cy="156.40" r="1.85"/><circle cx="360.90" cy="152.47" r="1.85"/><circle cx="366.29" cy="148.57" r="1.85"/><circle cx="371.69" cy="144.69" r="1.85"/><circle cx="377.09" cy="140.83" r="1.85"/><circle cx="382.48" cy="137.00" r="1.85"/><circle cx="387.88" cy="133.19" r="1.85"/><circle cx="393.28" cy="129.40" r="1.85"/><circle cx="398.68" cy="125.64" r="1.85"/><circle cx="404.07" cy="121.90" r="1.85"/><circle cx="409.47" cy="118.19" r="1.85"/><circle cx="414.87" cy="114.50" r="1.85"/><circle cx="420.26" cy="110.83" r="1.85"/><circle cx="425.66" cy="107.19" r="1.85"/><circle cx="431.06" cy="103.57" r="1.85"/><circle cx="436.45" cy="99.97" r="1.85"/><circle cx="441.85" cy="96.40" r="1.85"/><circle cx="447.25" cy="92.85" r="1.85"/><circle cx="452.65" cy="89.32" r="1.85"/><circle cx="458.04" cy="85.82" r="1.85"/><circle cx="463.44" cy="82.35" r="1.85"/><circle cx="468.84" cy="78.89" r="1.85"/><circle cx="474.23" cy="75.46" r="1.85"/><circle cx="479.63" cy="72.05" r="1.85"/><circle cx="485.03" cy="68.67" r="1.85"/><circle cx="490.42" cy="65.31" r="1.85"/><circle cx="495.82" cy="61.97" r="1.85"/><circle cx="501.22" cy="58.66" r="1.85"/><circle cx="506.62" cy="55.37" r="1.85"/><circle cx="512.01" cy="52.11" r="1.85"/><circle cx="517.41" cy="48.87" r="1.85"/><circle cx="522.81" cy="45.65" r="1.85"/><circle cx="528.20" cy="42.45" r="1.85"/><circle cx="533.60" cy="39.28" r="1.85"/></g>
<path d="M355.50,156.40 L360.90,152.11 L366.29,147.84 L371.69,143.60 L377.09,139.38 L382.48,135.19 L387.88,131.03 L393.28,126.89 L398.68,122.77 L404.07,118.69 L409.47,114.63 L414.87,110.59 L420.26,106.58 L425.66,102.60 L431.06,98.64 L436.45,94.71 L441.85,90.80 L447.25,86.92 L452.65,83.07 L458.04,79.24 L463.44,75.44 L468.84,71.66 L474.23,67.91 L479.63,64.19 L485.03,60.49 L490.42,56.82 L495.82,53.17 L501.22,49.55 L506.62,45.95 L512.01,42.38 L517.41,38.84 L522.81,35.32 L528.20,31.83 L533.60,28.36" stroke="#2a2a9a" stroke-width="0.7" stroke-dasharray="2,1.5" fill="none" opacity="0.8"/>
<g fill="#2a2a9a"><path d="M355.50,154.10L357.80,158.24L353.20,158.24Z"/><path d="M360.90,149.81L363.20,153.95L358.60,153.95Z"/><path d="M366.29,145.54L368.59,149.68L363.99,149.68Z"/><path d="M371.69,141.30L373.99,145.44L369.39,145.44Z"/><path d="M377.09,137.08L379.39,141.22L374.79,141.22Z"/><path d="M382.48,132.89L384.78,137.03L380.18,137.03Z"/><path d="M387.88,128.73L390.18,132.87L385.58,132.87Z"/><path d="M393.28,124.59L395.58,128.73L390.98,128.73Z"/><path d="M398.68,120.47L400.98,124.61L396.38,124.61Z"/><path d="M404.07,116.39L406.37,120.53L401.77,120.53Z"/><path d="M409.47,112.33L411.77,116.47L407.17,116.47Z"/><path d="M414.87,108.29L417.17,112.43L412.57,112.43Z"/><path d="M420.26,104.28L422.56,108.42L417.96,108.42Z"/><path d="M425.66,100.30L427.96,104.44L423.36,104.44Z"/><path d="M431.06,96.34L433.36,100.48L428.76,100.48Z"/><path d="M436.45,92.41L438.75,96.55L434.15,96.55Z"/><path d="M441.85,88.50L444.15,92.64L439.55,92.64Z"/><path d="M447.25,84.62L449.55,88.76L444.95,88.76Z"/><path d="M452.65,80.77L454.95,84.91L450.35,84.91Z"/><path d="M458.04,76.94L460.34,81.08L455.74,81.08Z"/><path d="M463.44,73.14L465.74,77.28L461.14,77.28Z"/><path d="M468.84,69.36L471.14,73.50L466.54,73.50Z"/><path d="M474.23,65.61L476.53,69.75L471.93,69.75Z"/><path d="M479.63,61.89L481.93,66.03L477.33,66.03Z"/><path d="M485.03,58.19L487.33,62.33L482.73,62.33Z"/><path d="M490.42,54.52L492.72,58.66L488.12,58.66Z"/><path d="M495.82,50.87L498.12,55.01L493.52,55.01Z"/><path d="M501.22,47.25L503.52,51.39L498.92,51.39Z"/><path d="M506.62,43.65L508.92,47.79L504.32,47.79Z"/><path d="M512.01,40.08L514.31,44.22L509.71,44.22Z"/><path d="M517.41,36.54L519.71,40.68L515.11,40.68Z"/><path d="M522.81,33.02L525.11,37.16L520.51,37.16Z"/><path d="M528.20,29.53L530.50,33.67L525.90,33.67Z"/><path d="M533.60,26.06L535.90,30.20L531.30,30.20Z"/></g>
<path d="M355.50,156.40 L360.90,151.93 L366.29,147.49 L371.69,143.08 L377.09,138.69 L382.48,134.33 L387.88,130.00 L393.28,125.69 L398.68,121.42 L404.07,117.16 L409.47,112.94 L414.87,108.74 L420.26,104.57 L425.66,100.42 L431.06,96.31 L436.45,92.22 L441.85,88.15 L447.25,84.12 L452.65,80.11 L458.04,76.12 L463.44,72.17 L468.84,68.24 L474.23,64.34 L479.63,60.46 L485.03,56.61 L490.42,52.79 L495.82,49.00 L501.22,45.23 L506.62,41.49 L512.01,37.78 L517.41,34.09 L522.81,30.43 L528.20,26.80 L533.60,23.19" stroke="#168040" stroke-width="0.7" stroke-dasharray="2,1.5" fill="none" opacity="0.8"/>
<g fill="#168040"><circle cx="355.50" cy="156.40" r="1.85"/><circle cx="360.90" cy="151.93" r="1.85"/><circle cx="366.29" cy="147.49" r="1.85"/><circle cx="371.69" cy="143.08" r="1.85"/><circle cx="377.09" cy="138.69" r="1.85"/><circle cx="382.48" cy="134.33" r="1.85"/><circle cx="387.88" cy="130.00" r="1.85"/><circle cx="393.28" cy="125.69" r="1.85"/><circle cx="398.68" cy="121.42" r="1.85"/><circle cx="404.07" cy="117.16" r="1.85"/><circle cx="409.47" cy="112.94" r="1.85"/><circle cx="414.87" cy="108.74" r="1.85"/><circle cx="420.26" cy="104.57" r="1.85"/><circle cx="425.66" cy="100.42" r="1.85"/><circle cx="431.06" cy="96.31" r="1.85"/><circle cx="436.45" cy="92.22" r="1.85"/><circle cx="441.85" cy="88.15" r="1.85"/><circle cx="447.25" cy="84.12" r="1.85"/><circle cx="452.65" cy="80.11" r="1.85"/><circle cx="458.04" cy="76.12" r="1.85"/><circle cx="463.44" cy="72.17" r="1.85"/><circle cx="468.84" cy="68.24" r="1.85"/><circle cx="474.23" cy="64.34" r="1.85"/><circle cx="479.63" cy="60.46" r="1.85"/><circle cx="485.03" cy="56.61" r="1.85"/><circle cx="490.42" cy="52.79" r="1.85"/><circle cx="495.82" cy="49.00" r="1.85"/><circle cx="501.22" cy="45.23" r="1.85"/><circle cx="506.62" cy="41.49" r="1.85"/><circle cx="512.01" cy="37.78" r="1.85"/><circle cx="517.41" cy="34.09" r="1.85"/><circle cx="522.81" cy="30.43" r="1.85"/><circle cx="528.20" cy="26.80" r="1.85"/><circle cx="533.60" cy="23.19" r="1.85"/></g>
<rect x="366" y="19" width="56.5" height="74" fill="#fff" stroke="#444" stroke-width="0.9"/>
<path d="M369.5,25.6h3.5M381.5,25.6h3.5" stroke="#111111" stroke-width="0.9"/>
<g fill="#111111"><rect x="376.60" y="24.00" width="3.2" height="3.2"/></g>
<text x="389.6" y="28.0" font-family="Liberation Sans, Arial, sans-serif" font-size="7.5" fill="#222" stroke="#222" stroke-width="0.15">Fingertip</text>
<path d="M369.5,34.8h3.5M381.5,34.8h3.5" stroke="#f02030" stroke-width="0.9"/>
<g fill="#f02030"><circle cx="378.20" cy="34.80" r="1.85"/></g>
<text x="389.6" y="37.2" font-family="Liberation Sans, Arial, sans-serif" font-size="7.5" fill="#222" stroke="#222" stroke-width="0.15">Tricep</text>
<path d="M369.5,44.0h3.5M381.5,44.0h3.5" stroke="#2a2a9a" stroke-width="0.9"/>
<g fill="#2a2a9a"><path d="M378.20,41.70L380.50,45.84L375.90,45.84Z"/></g>
<text x="389.6" y="46.4" font-family="Liberation Sans, Arial, sans-serif" font-size="7.5" fill="#222" stroke="#222" stroke-width="0.15">Back</text>
<path d="M369.5,53.2h3.5M381.5,53.2h3.5" stroke="#e040c0" stroke-width="0.9"/>
<g fill="#e040c0"><path d="M378.20,55.50L380.50,51.36L375.90,51.36Z"/></g>
<text x="389.6" y="55.6" font-family="Liberation Sans, Arial, sans-serif" font-size="7.5" fill="#222" stroke="#222" stroke-width="0.15">Abdomen</text>
<path d="M369.5,62.4h3.5M381.5,62.4h3.5" stroke="#168040" stroke-width="0.9"/>
<g fill="#168040"><circle cx="378.20" cy="62.40" r="1.85"/></g>
<text x="389.6" y="64.8" font-family="Liberation Sans, Arial, sans-serif" font-size="7.5" fill="#222" stroke="#222" stroke-width="0.15">Forearm</text>
<path d="M369.5,71.6h3.5M381.5,71.6h3.5" stroke="#25208a" stroke-width="0.9"/>
<g fill="#25208a"><path d="M375.90,71.60L380.04,69.30L380.04,73.90Z"/></g>
<text x="389.6" y="74.0" font-family="Liberation Sans, Arial, sans-serif" font-size="7.5" fill="#222" stroke="#222" stroke-width="0.15">Neck</text>
<path d="M369.5,80.8h3.5M381.5,80.8h3.5" stroke="#7a35c8" stroke-width="0.9"/>
<g fill="#7a35c8"><path d="M380.50,80.80L376.36,78.50L376.36,83.10Z"/></g>
<text x="389.6" y="83.2" font-family="Liberation Sans, Arial, sans-serif" font-size="7.5" fill="#222" stroke="#222" stroke-width="0.15">Hand</text>
<path d="M369.5,90.0h3.5M381.5,90.0h3.5" stroke="#7a0a7a" stroke-width="0.9"/>
<g fill="#7a0a7a"><circle cx="378.20" cy="90.00" r="1.85"/></g>
<text x="389.6" y="92.4" font-family="Liberation Sans, Arial, sans-serif" font-size="7.5" fill="#222" stroke="#222" stroke-width="0.15">Forehead</text>
<text x="460.6" y="32.6" font-family="Liberation Sans, Arial, sans-serif" font-size="9.2" fill="#3a8c48" stroke="#3a8c48" stroke-width="0.15" textLength="33.6" lengthAdjust="spacingAndGlyphs">Forearm</text>
<path d="M483.4,34.6 C484,41 488,45 494.5,46.2" stroke="#2f8a45" stroke-width="1.1" fill="none"/><path d="M497.5,47 L492.6,43.6 L492.2,48.6 Z" fill="#2f8a45"/>
<text x="436.3" y="57.1" font-family="Liberation Sans, Arial, sans-serif" font-size="8.8" fill="#ee3344" stroke="#ee3344" stroke-width="0.12" textLength="23.5" lengthAdjust="spacingAndGlyphs">Tricep</text>
<path d="M453.5,59.7 C463,59 470,61 474,65 C476,67.5 479,69 482,69.2" stroke="#e82232" stroke-width="1.1" fill="none"/><path d="M485.5,69.5 L480.6,66.6 L480.8,71.6 Z" fill="#e82232"/>
<text x="478.1" y="128.6" font-family="Liberation Sans, Arial, sans-serif" font-size="7.6" fill="#8a3a90" stroke="#8a3a90" stroke-width="0.12" textLength="31.6" lengthAdjust="spacingAndGlyphs">Forehead</text>
<path d="M494.6,121.8 C494,117 495,114.5 497.5,113 C500,111.5 501.5,110 501.8,108.5" stroke="#7a1a80" stroke-width="1.1" fill="none"/><path d="M502.5,105.6 L499.3,110.2 L504.2,110.6 Z" fill="#7a1a80"/>
<text x="311.2" y="25.3" font-family="Liberation Serif, Times New Roman, serif" font-size="17" fill="#111">C</text>
<rect x="356.0" y="205.6" width="178.6" height="139.4" fill="none" stroke="#555" stroke-width="1"/>
<path d="M369.44,345.0v-1.2M369.44,205.6v1.2M377.30,345.0v-1.2M377.30,205.6v1.2M382.88,345.0v-1.2M382.88,205.6v1.2M387.21,345.0v-1.2M387.21,205.6v1.2M390.74,345.0v-1.2M390.74,205.6v1.2M393.73,345.0v-1.2M393.73,205.6v1.2M396.32,345.0v-1.2M396.32,205.6v1.2M398.61,345.0v-1.2M398.61,205.6v1.2M400.65,345.0v-2.2M400.65,205.6v2.2M414.09,345.0v-1.2M414.09,205.6v1.2M421.95,345.0v-1.2M421.95,205.6v1.2M427.53,345.0v-1.2M427.53,205.6v1.2M431.86,345.0v-1.2M431.86,205.6v1.2M435.39,345.0v-1.2M435.39,205.6v1.2M438.38,345.0v-1.2M438.38,205.6v1.2M440.97,345.0v-1.2M440.97,205.6v1.2M443.26,345.0v-1.2M443.26,205.6v1.2M445.30,345.0v-2.2M445.30,205.6v2.2M458.74,345.0v-1.2M458.74,205.6v1.2M466.60,345.0v-1.2M466.60,205.6v1.2M472.18,345.0v-1.2M472.18,205.6v1.2M476.51,345.0v-1.2M476.51,205.6v1.2M480.04,345.0v-1.2M480.04,205.6v1.2M483.03,345.0v-1.2M483.03,205.6v1.2M485.62,345.0v-1.2M485.62,205.6v1.2M487.91,345.0v-1.2M487.91,205.6v1.2M489.95,345.0v-2.2M489.95,205.6v2.2M503.39,345.0v-1.2M503.39,205.6v1.2M511.25,345.0v-1.2M511.25,205.6v1.2M516.83,345.0v-1.2M516.83,205.6v1.2M521.16,345.0v-1.2M521.16,205.6v1.2M524.69,345.0v-1.2M524.69,205.6v1.2M527.68,345.0v-1.2M527.68,205.6v1.2M530.27,345.0v-1.2M530.27,205.6v1.2M532.56,345.0v-1.2M532.56,205.6v1.2M356.0,331.01h1.2M534.6,331.01h-1.2M356.0,322.83h1.2M534.6,322.83h-1.2M356.0,317.02h1.2M534.6,317.02h-1.2M356.0,312.52h1.2M534.6,312.52h-1.2M356.0,308.84h1.2M534.6,308.84h-1.2M356.0,305.73h1.2M534.6,305.73h-1.2M356.0,303.04h1.2M534.6,303.04h-1.2M356.0,300.66h1.2M534.6,300.66h-1.2M356.0,298.53h2.2M534.6,298.53h-2.2M356.0,284.55h1.2M534.6,284.55h-1.2M356.0,276.36h1.2M534.6,276.36h-1.2M356.0,270.56h1.2M534.6,270.56h-1.2M356.0,266.05h1.2M534.6,266.05h-1.2M356.0,262.38h1.2M534.6,262.38h-1.2M356.0,259.26h1.2M534.6,259.26h-1.2M356.0,256.57h1.2M534.6,256.57h-1.2M356.0,254.19h1.2M534.6,254.19h-1.2M356.0,252.07h2.2M534.6,252.07h-2.2M356.0,238.08h1.2M534.6,238.08h-1.2M356.0,229.90h1.2M534.6,229.90h-1.2M356.0,224.09h1.2M534.6,224.09h-1.2M356.0,219.59h1.2M534.6,219.59h-1.2M356.0,215.91h1.2M534.6,215.91h-1.2M356.0,212.80h1.2M534.6,212.80h-1.2M356.0,210.10h1.2M534.6,210.10h-1.2M356.0,207.73h1.2M534.6,207.73h-1.2" stroke="#666" stroke-width="0.6" fill="none"/>
<g stroke="#444" stroke-width="0.78" fill="none"><path d="M356.00,334.73 L357.98,333.80 L359.97,332.90 L361.95,332.04 L363.94,331.22 L365.92,330.43 L367.91,329.69 L369.89,328.99 L371.88,328.33 L373.86,327.71 L375.84,327.14 L377.83,326.60 L379.81,326.11 L381.80,325.65 L383.78,325.24 L385.77,324.85 L387.75,324.50 L389.74,324.19 L391.72,323.90 L393.70,323.64 L395.69,323.41 L397.67,323.20 L399.66,323.01 L401.64,322.84 L403.63,322.69 L405.61,322.56 L407.60,322.44 L409.58,322.33 L411.56,322.24 L413.55,322.16 L415.53,322.08 L417.52,322.02 L419.50,321.96 L421.49,321.91 L423.47,321.86 L425.46,321.82 L427.44,321.79 L429.42,321.76 L431.41,321.73 L433.39,321.70 L435.38,321.68 L437.36,321.66 L439.35,321.65 L441.33,321.63 L443.32,321.62 L445.30,321.61 L447.28,321.60 L449.27,321.59 L451.25,321.58 L453.24,321.58 L455.22,321.57 L457.21,321.57 L459.19,321.56 L461.18,321.56 L463.16,321.55 L465.14,321.55 L467.13,321.55 L469.11,321.54 L471.10,321.54 L473.08,321.54 L475.07,321.54 L477.05,321.54 L479.04,321.54 L481.02,321.54 L483.00,321.53 L484.99,321.53 L486.97,321.53 L488.96,321.53 L490.94,321.53 L492.93,321.53 L494.91,321.53 L496.90,321.53 L498.88,321.53 L500.86,321.53 L502.85,321.53 L504.83,321.53 L506.82,321.53 L508.80,321.53 L510.79,321.53 L512.77,321.53 L514.76,321.53 L516.74,321.53 L518.72,321.53 L520.71,321.53 L522.69,321.53 L524.68,321.53 L526.66,321.53 L528.65,321.53 L530.63,321.53 L532.62,321.53 L534.60,321.53"/><path d="M356.00,311.77 L357.98,310.51 L359.97,309.24 L361.95,307.99 L363.94,306.74 L365.92,305.49 L367.91,304.25 L369.89,303.03 L371.88,301.81 L373.86,300.60 L375.84,299.40 L377.83,298.21 L379.81,297.04 L381.80,295.89 L383.78,294.75 L385.77,293.64 L387.75,292.54 L389.74,291.47 L391.72,290.42 L393.70,289.40 L395.69,288.41 L397.67,287.45 L399.66,286.52 L401.64,285.63 L403.63,284.78 L405.61,283.97 L407.60,283.19 L409.58,282.46 L411.56,281.76 L413.55,281.11 L415.53,280.51 L417.52,279.94 L419.50,279.41 L421.49,278.93 L423.47,278.48 L425.46,278.07 L427.44,277.69 L429.42,277.35 L431.41,277.04 L433.39,276.76 L435.38,276.50 L437.36,276.28 L439.35,276.07 L441.33,275.89 L443.32,275.72 L445.30,275.58 L447.28,275.44 L449.27,275.33 L451.25,275.22 L453.24,275.13 L455.22,275.05 L457.21,274.98 L459.19,274.92 L461.18,274.86 L463.16,274.81 L465.14,274.77 L467.13,274.73 L469.11,274.69 L471.10,274.66 L473.08,274.64 L475.07,274.61 L477.05,274.59 L479.04,274.57 L481.02,274.56 L483.00,274.54 L484.99,274.53 L486.97,274.52 L488.96,274.51 L490.94,274.50 L492.93,274.49 L494.91,274.49 L496.90,274.48 L498.88,274.48 L500.86,274.47 L502.85,274.47 L504.83,274.46 L506.82,274.46 L508.80,274.46 L510.79,274.46 L512.77,274.45 L514.76,274.45 L516.74,274.45 L518.72,274.45 L520.71,274.45 L522.69,274.45 L524.68,274.45 L526.66,274.45 L528.65,274.45 L530.63,274.44 L532.62,274.44 L534.60,274.44"/><path d="M356.00,306.66 L357.98,305.37 L359.97,304.09 L361.95,302.81 L363.94,301.53 L365.92,300.25 L367.91,298.98 L369.89,297.71 L371.88,296.44 L373.86,295.18 L375.84,293.93 L377.83,292.68 L379.81,291.44 L381.80,290.21 L383.78,288.98 L385.77,287.77 L387.75,286.56 L389.74,285.37 L391.72,284.20 L393.70,283.03 L395.69,281.89 L397.67,280.76 L399.66,279.65 L401.64,278.57 L403.63,277.51 L405.61,276.47 L407.60,275.47 L409.58,274.49 L411.56,273.55 L413.55,272.64 L415.53,271.77 L417.52,270.93 L419.50,270.14 L421.49,269.38 L423.47,268.67 L425.46,268.00 L427.44,267.37 L429.42,266.78 L431.41,266.23 L433.39,265.73 L435.38,265.26 L437.36,264.83 L439.35,264.44 L441.33,264.08 L443.32,263.75 L445.30,263.45 L447.28,263.19 L449.27,262.95 L451.25,262.73 L453.24,262.54 L455.22,262.36 L457.21,262.21 L459.19,262.07 L461.18,261.94 L463.16,261.83 L465.14,261.74 L467.13,261.65 L469.11,261.57 L471.10,261.50 L473.08,261.44 L475.07,261.39 L477.05,261.34 L479.04,261.30 L481.02,261.27 L483.00,261.23 L484.99,261.21 L486.97,261.18 L488.96,261.16 L490.94,261.14 L492.93,261.12 L494.91,261.11 L496.90,261.09 L498.88,261.08 L500.86,261.07 L502.85,261.06 L504.83,261.06 L506.82,261.05 L508.80,261.04 L510.79,261.04 L512.77,261.03 L514.76,261.03 L516.74,261.02 L518.72,261.02 L520.71,261.02 L522.69,261.02 L524.68,261.01 L526.66,261.01 L528.65,261.01 L530.63,261.01 L532.62,261.01 L534.60,261.01"/><path d="M356.00,303.71 L357.98,302.41 L359.97,301.12 L361.95,299.83 L363.94,298.55 L365.92,297.26 L367.91,295.98 L369.89,294.70 L371.88,293.42 L373.86,292.14 L375.84,290.87 L377.83,289.60 L379.81,288.34 L381.80,287.08 L383.78,285.83 L385.77,284.58 L387.75,283.34 L389.74,282.11 L391.72,280.89 L393.70,279.67 L395.69,278.47 L397.67,277.28 L399.66,276.11 L401.64,274.95 L403.63,273.81 L405.61,272.68 L407.60,271.58 L409.58,270.50 L411.56,269.44 L413.55,268.41 L415.53,267.41 L417.52,266.44 L419.50,265.51 L421.49,264.61 L423.47,263.74 L425.46,262.91 L427.44,262.13 L429.42,261.38 L431.41,260.67 L433.39,260.01 L435.38,259.39 L437.36,258.81 L439.35,258.27 L441.33,257.77 L443.32,257.31 L445.30,256.89 L447.28,256.50 L449.27,256.15 L451.25,255.83 L453.24,255.54 L455.22,255.28 L457.21,255.04 L459.19,254.83 L461.18,254.64 L463.16,254.47 L465.14,254.31 L467.13,254.18 L469.11,254.06 L471.10,253.95 L473.08,253.86 L475.07,253.77 L477.05,253.70 L479.04,253.63 L481.02,253.57 L483.00,253.52 L484.99,253.47 L486.97,253.43 L488.96,253.40 L490.94,253.37 L492.93,253.34 L494.91,253.31 L496.90,253.29 L498.88,253.27 L500.86,253.26 L502.85,253.24 L504.83,253.23 L506.82,253.22 L508.80,253.21 L510.79,253.20 L512.77,253.19 L514.76,253.18 L516.74,253.18 L518.72,253.17 L520.71,253.17 L522.69,253.16 L524.68,253.16 L526.66,253.16 L528.65,253.15 L530.63,253.15 L532.62,253.15 L534.60,253.15"/><path d="M356.00,301.62 L357.98,300.33 L359.97,299.03 L361.95,297.74 L363.94,296.45 L365.92,295.16 L367.91,293.87 L369.89,292.58 L371.88,291.30 L373.86,290.02 L375.84,288.74 L377.83,287.46 L379.81,286.18 L381.80,284.91 L383.78,283.65 L385.77,282.38 L387.75,281.13 L389.74,279.87 L391.72,278.63 L393.70,277.39 L395.69,276.16 L397.67,274.94 L399.66,273.73 L401.64,272.54 L403.63,271.35 L405.61,270.18 L407.60,269.03 L409.58,267.89 L411.56,266.77 L413.55,265.67 L415.53,264.60 L417.52,263.55 L419.50,262.53 L421.49,261.54 L423.47,260.58 L425.46,259.66 L427.44,258.76 L429.42,257.91 L431.41,257.10 L433.39,256.32 L435.38,255.59 L437.36,254.89 L439.35,254.24 L441.33,253.63 L443.32,253.06 L445.30,252.54 L447.28,252.05 L449.27,251.60 L451.25,251.19 L453.24,250.81 L455.22,250.47 L457.21,250.16 L459.19,249.88 L461.18,249.62 L463.16,249.39 L465.14,249.19 L467.13,249.01 L469.11,248.84 L471.10,248.69 L473.08,248.56 L475.07,248.45 L477.05,248.34 L479.04,248.25 L481.02,248.17 L483.00,248.10 L484.99,248.03 L486.97,247.98 L488.96,247.93 L490.94,247.88 L492.93,247.84 L494.91,247.81 L496.90,247.78 L498.88,247.75 L500.86,247.73 L502.85,247.71 L504.83,247.69 L506.82,247.67 L508.80,247.66 L510.79,247.65 L512.77,247.64 L514.76,247.63 L516.74,247.62 L518.72,247.61 L520.71,247.60 L522.69,247.60 L524.68,247.59 L526.66,247.59 L528.65,247.58 L530.63,247.58 L532.62,247.58 L534.60,247.57"/><path d="M356.00,300.01 L357.98,298.71 L359.97,297.42 L361.95,296.12 L363.94,294.83 L365.92,293.54 L367.91,292.24 L369.89,290.95 L371.88,289.67 L373.86,288.38 L375.84,287.09 L377.83,285.81 L379.81,284.53 L381.80,283.25 L383.78,281.98 L385.77,280.71 L387.75,279.44 L389.74,278.18 L391.72,276.92 L393.70,275.67 L395.69,274.42 L397.67,273.18 L399.66,271.95 L401.64,270.73 L403.63,269.52 L405.61,268.32 L407.60,267.14 L409.58,265.96 L411.56,264.81 L413.55,263.67 L415.53,262.55 L417.52,261.45 L419.50,260.38 L421.49,259.32 L423.47,258.30 L425.46,257.31 L427.44,256.34 L429.42,255.42 L431.41,254.52 L433.39,253.66 L435.38,252.84 L437.36,252.06 L439.35,251.33 L441.33,250.63 L443.32,249.97 L445.30,249.36 L447.28,248.79 L449.27,248.26 L451.25,247.77 L453.24,247.31 L455.22,246.90 L457.21,246.52 L459.19,246.17 L461.18,245.86 L463.16,245.58 L465.14,245.32 L467.13,245.09 L469.11,244.88 L471.10,244.69 L473.08,244.53 L475.07,244.38 L477.05,244.25 L479.04,244.13 L481.02,244.02 L483.00,243.93 L484.99,243.85 L486.97,243.78 L488.96,243.71 L490.94,243.65 L492.93,243.60 L494.91,243.56 L496.90,243.52 L498.88,243.48 L500.86,243.45 L502.85,243.43 L504.83,243.40 L506.82,243.38 L508.80,243.36 L510.79,243.35 L512.77,243.33 L514.76,243.32 L516.74,243.31 L518.72,243.30 L520.71,243.29 L522.69,243.28 L524.68,243.28 L526.66,243.27 L528.65,243.27 L530.63,243.26 L532.62,243.26 L534.60,243.25"/><path d="M356.00,298.69 L357.98,297.40 L359.97,296.10 L361.95,294.80 L363.94,293.51 L365.92,292.21 L367.91,290.92 L369.89,289.63 L371.88,288.34 L373.86,287.05 L375.84,285.76 L377.83,284.47 L379.81,283.19 L381.80,281.91 L383.78,280.63 L385.77,279.35 L387.75,278.07 L389.74,276.80 L391.72,275.54 L393.70,274.28 L395.69,273.02 L397.67,271.77 L399.66,270.53 L401.64,269.29 L403.63,268.06 L405.61,266.85 L407.60,265.64 L409.58,264.44 L411.56,263.26 L413.55,262.09 L415.53,260.94 L417.52,259.81 L419.50,258.69 L421.49,257.60 L423.47,256.53 L425.46,255.49 L427.44,254.48 L429.42,253.49 L431.41,252.54 L433.39,251.62 L435.38,250.73 L437.36,249.89 L439.35,249.08 L441.33,248.31 L443.32,247.59 L445.30,246.90 L447.28,246.26 L449.27,245.66 L451.25,245.10 L453.24,244.58 L455.22,244.10 L457.21,243.66 L459.19,243.25 L461.18,242.88 L463.16,242.54 L465.14,242.24 L467.13,241.96 L469.11,241.71 L471.10,241.49 L473.08,241.29 L475.07,241.11 L477.05,240.95 L479.04,240.80 L481.02,240.68 L483.00,240.56 L484.99,240.46 L486.97,240.37 L488.96,240.29 L490.94,240.22 L492.93,240.16 L494.91,240.10 L496.90,240.05 L498.88,240.01 L500.86,239.97 L502.85,239.94 L504.83,239.91 L506.82,239.88 L508.80,239.86 L510.79,239.84 L512.77,239.82 L514.76,239.81 L516.74,239.79 L518.72,239.78 L520.71,239.77 L522.69,239.76 L524.68,239.75 L526.66,239.74 L528.65,239.74 L530.63,239.73 L532.62,239.73 L534.60,239.72"/><path d="M356.00,297.58 L357.98,296.28 L359.97,294.99 L361.95,293.69 L363.94,292.39 L365.92,291.10 L367.91,289.80 L369.89,288.51 L371.88,287.22 L373.86,285.93 L375.84,284.64 L377.83,283.35 L379.81,282.06 L381.80,280.77 L383.78,279.49 L385.77,278.21 L387.75,276.93 L389.74,275.65 L391.72,274.38 L393.70,273.12 L395.69,271.85 L397.67,270.59 L399.66,269.34 L401.64,268.09 L403.63,266.85 L405.61,265.62 L407.60,264.40 L409.58,263.19 L411.56,261.99 L413.55,260.80 L415.53,259.62 L417.52,258.47 L419.50,257.32 L421.49,256.20 L423.47,255.10 L425.46,254.02 L427.44,252.97 L429.42,251.94 L431.41,250.94 L433.39,249.97 L435.38,249.04 L437.36,248.14 L439.35,247.27 L441.33,246.45 L443.32,245.66 L445.30,244.92 L447.28,244.21 L449.27,243.55 L451.25,242.93 L453.24,242.35 L455.22,241.81 L457.21,241.32 L459.19,240.86 L461.18,240.44 L463.16,240.05 L465.14,239.70 L467.13,239.38 L469.11,239.09 L471.10,238.83 L473.08,238.60 L475.07,238.39 L477.05,238.20 L479.04,238.03 L481.02,237.88 L483.00,237.74 L484.99,237.62 L486.97,237.51 L488.96,237.42 L490.94,237.34 L492.93,237.26 L494.91,237.20 L496.90,237.14 L498.88,237.09 L500.86,237.04 L502.85,237.00 L504.83,236.96 L506.82,236.93 L508.80,236.91 L510.79,236.88 L512.77,236.86 L514.76,236.84 L516.74,236.82 L518.72,236.81 L520.71,236.80 L522.69,236.79 L524.68,236.78 L526.66,236.77 L528.65,236.76 L530.63,236.75 L532.62,236.75 L534.60,236.74"/><path d="M356.00,296.62 L357.98,295.32 L359.97,294.02 L361.95,292.73 L363.94,291.43 L365.92,290.13 L367.91,288.84 L369.89,287.54 L371.88,286.25 L373.86,284.96 L375.84,283.66 L377.83,282.37 L379.81,281.08 L381.80,279.80 L383.78,278.51 L385.77,277.23 L387.75,275.94 L389.74,274.67 L391.72,273.39 L393.70,272.12 L395.69,270.85 L397.67,269.58 L399.66,268.32 L401.64,267.07 L403.63,265.82 L405.61,264.58 L407.60,263.35 L409.58,262.12 L411.56,260.91 L413.55,259.70 L415.53,258.51 L417.52,257.33 L419.50,256.17 L421.49,255.02 L423.47,253.89 L425.46,252.79 L427.44,251.70 L429.42,250.64 L431.41,249.61 L433.39,248.60 L435.38,247.62 L437.36,246.68 L439.35,245.77 L441.33,244.90 L443.32,244.06 L445.30,243.27 L447.28,242.51 L449.27,241.80 L451.25,241.12 L453.24,240.49 L455.22,239.91 L457.21,239.36 L459.19,238.85 L461.18,238.38 L463.16,237.95 L465.14,237.56 L467.13,237.20 L469.11,236.87 L471.10,236.58 L473.08,236.31 L475.07,236.07 L477.05,235.85 L479.04,235.65 L481.02,235.48 L483.00,235.32 L484.99,235.18 L486.97,235.06 L488.96,234.95 L490.94,234.85 L492.93,234.77 L494.91,234.69 L496.90,234.62 L498.88,234.56 L500.86,234.51 L502.85,234.46 L504.83,234.42 L506.82,234.38 L508.80,234.35 L510.79,234.32 L512.77,234.30 L514.76,234.27 L516.74,234.26 L518.72,234.24 L520.71,234.22 L522.69,234.21 L524.68,234.20 L526.66,234.19 L528.65,234.18 L530.63,234.17 L532.62,234.16 L534.60,234.16"/><path d="M356.00,295.77 L357.98,294.47 L359.97,293.18 L361.95,291.88 L363.94,290.58 L365.92,289.28 L367.91,287.99 L369.89,286.69 L371.88,285.40 L373.86,284.10 L375.84,282.81 L377.83,281.52 L379.81,280.23 L381.80,278.94 L383.78,277.65 L385.77,276.36 L387.75,275.08 L389.74,273.80 L391.72,272.52 L393.70,271.24 L395.69,269.97 L397.67,268.70 L399.66,267.43 L401.64,266.17 L403.63,264.92 L405.61,263.67 L407.60,262.43 L409.58,261.19 L411.56,259.97 L413.55,258.75 L415.53,257.54 L417.52,256.35 L419.50,255.17 L421.49,254.01 L423.47,252.86 L425.46,251.73 L427.44,250.62 L429.42,249.53 L431.41,248.47 L433.39,247.43 L435.38,246.42 L437.36,245.44 L439.35,244.49 L441.33,243.58 L443.32,242.71 L445.30,241.87 L447.28,241.07 L449.27,240.31 L451.25,239.59 L453.24,238.91 L455.22,238.27 L457.21,237.68 L459.19,237.13 L461.18,236.62 L463.16,236.15 L465.14,235.71 L467.13,235.31 L469.11,234.95 L471.10,234.62 L473.08,234.32 L475.07,234.05 L477.05,233.81 L479.04,233.59 L481.02,233.39 L483.00,233.21 L484.99,233.06 L486.97,232.91 L488.96,232.79 L490.94,232.68 L492.93,232.58 L494.91,232.49 L496.90,232.41 L498.88,232.34 L500.86,232.28 L502.85,232.23 L504.83,232.18 L506.82,232.14 L508.80,232.10 L510.79,232.07 L512.77,232.04 L514.76,232.02 L516.74,231.99 L518.72,231.97 L520.71,231.96 L522.69,231.94 L524.68,231.93 L526.66,231.92 L528.65,231.90 L530.63,231.90 L532.62,231.89 L534.60,231.88"/><path d="M356.00,295.01 L357.98,293.72 L359.97,292.42 L361.95,291.12 L363.94,289.82 L365.92,288.52 L367.91,287.23 L369.89,285.93 L371.88,284.63 L373.86,283.34 L375.84,282.05 L377.83,280.75 L379.81,279.46 L381.80,278.17 L383.78,276.88 L385.77,275.59 L387.75,274.31 L389.74,273.02 L391.72,271.74 L393.70,270.46 L395.69,269.18 L397.67,267.91 L399.66,266.64 L401.64,265.38 L403.63,264.12 L405.61,262.86 L407.60,261.61 L409.58,260.37 L411.56,259.14 L413.55,257.91 L415.53,256.69 L417.52,255.49 L419.50,254.30 L421.49,253.12 L423.47,251.95 L425.46,250.80 L427.44,249.67 L429.42,248.56 L431.41,247.48 L433.39,246.41 L435.38,245.38 L437.36,244.37 L439.35,243.39 L441.33,242.44 L443.32,241.53 L445.30,240.65 L447.28,239.81 L449.27,239.01 L451.25,238.25 L453.24,237.54 L455.22,236.86 L457.21,236.22 L459.19,235.63 L461.18,235.08 L463.16,234.57 L465.14,234.10 L467.13,233.66 L469.11,233.27 L471.10,232.90 L473.08,232.57 L475.07,232.27 L477.05,232.00 L479.04,231.76 L481.02,231.54 L483.00,231.34 L484.99,231.17 L486.97,231.01 L488.96,230.87 L490.94,230.74 L492.93,230.63 L494.91,230.53 L496.90,230.45 L498.88,230.37 L500.86,230.30 L502.85,230.24 L504.83,230.19 L506.82,230.14 L508.80,230.10 L510.79,230.06 L512.77,230.03 L514.76,230.00 L516.74,229.97 L518.72,229.95 L520.71,229.93 L522.69,229.91 L524.68,229.90 L526.66,229.88 L528.65,229.87 L530.63,229.86 L532.62,229.85 L534.60,229.84"/><path d="M356.00,294.33 L357.98,293.03 L359.97,291.73 L361.95,290.43 L363.94,289.13 L365.92,287.84 L367.91,286.54 L369.89,285.24 L371.88,283.95 L373.86,282.65 L375.84,281.36 L377.83,280.06 L379.81,278.77 L381.80,277.48 L383.78,276.19 L385.77,274.90 L387.75,273.61 L389.74,272.32 L391.72,271.04 L393.70,269.76 L395.69,268.48 L397.67,267.20 L399.66,265.93 L401.64,264.66 L403.63,263.39 L405.61,262.13 L407.60,260.88 L409.58,259.63 L411.56,258.39 L413.55,257.16 L415.53,255.93 L417.52,254.72 L419.50,253.51 L421.49,252.32 L423.47,251.14 L425.46,249.98 L427.44,248.84 L429.42,247.71 L431.41,246.60 L433.39,245.52 L435.38,244.46 L437.36,243.42 L439.35,242.41 L441.33,241.44 L443.32,240.50 L445.30,239.59 L447.28,238.71 L449.27,237.88 L451.25,237.08 L453.24,236.33 L455.22,235.61 L457.21,234.94 L459.19,234.31 L461.18,233.72 L463.16,233.18 L465.14,232.67 L467.13,232.20 L469.11,231.77 L471.10,231.38 L473.08,231.02 L475.07,230.69 L477.05,230.40 L479.04,230.13 L481.02,229.89 L483.00,229.67 L484.99,229.48 L486.97,229.30 L488.96,229.15 L490.94,229.01 L492.93,228.88 L494.91,228.77 L496.90,228.68 L498.88,228.59 L500.86,228.51 L502.85,228.44 L504.83,228.38 L506.82,228.33 L508.80,228.28 L510.79,228.24 L512.77,228.21 L514.76,228.17 L516.74,228.15 L518.72,228.12 L520.71,228.10 L522.69,228.08 L524.68,228.06 L526.66,228.05 L528.65,228.03 L530.63,228.02 L532.62,228.01 L534.60,228.00"/><path d="M356.00,293.70 L357.98,292.40 L359.97,291.10 L361.95,289.81 L363.94,288.51 L365.92,287.21 L367.91,285.91 L369.89,284.61 L371.88,283.32 L373.86,282.02 L375.84,280.73 L377.83,279.43 L379.81,278.14 L381.80,276.84 L383.78,275.55 L385.77,274.26 L387.75,272.97 L389.74,271.69 L391.72,270.40 L393.70,269.12 L395.69,267.83 L397.67,266.56 L399.66,265.28 L401.64,264.01 L403.63,262.74 L405.61,261.48 L407.60,260.22 L409.58,258.96 L411.56,257.72 L413.55,256.48 L415.53,255.25 L417.52,254.02 L419.50,252.81 L421.49,251.61 L423.47,250.42 L425.46,249.24 L427.44,248.08 L429.42,246.94 L431.41,245.82 L433.39,244.71 L435.38,243.63 L437.36,242.58 L439.35,241.55 L441.33,240.55 L443.32,239.58 L445.30,238.64 L447.28,237.74 L449.27,236.87 L451.25,236.04 L453.24,235.26 L455.22,234.51 L457.21,233.80 L459.19,233.14 L461.18,232.51 L463.16,231.93 L465.14,231.39 L467.13,230.89 L469.11,230.43 L471.10,230.01 L473.08,229.62 L475.07,229.27 L477.05,228.95 L479.04,228.66 L481.02,228.40 L483.00,228.16 L484.99,227.95 L486.97,227.76 L488.96,227.58 L490.94,227.43 L492.93,227.30 L494.91,227.18 L496.90,227.07 L498.88,226.97 L500.86,226.89 L502.85,226.81 L504.83,226.75 L506.82,226.69 L508.80,226.64 L510.79,226.59 L512.77,226.55 L514.76,226.51 L516.74,226.48 L518.72,226.45 L520.71,226.43 L522.69,226.41 L524.68,226.39 L526.66,226.37 L528.65,226.36 L530.63,226.34 L532.62,226.33 L534.60,226.32"/><path d="M356.00,293.13 L357.98,291.83 L359.97,290.53 L361.95,289.23 L363.94,287.93 L365.92,286.63 L367.91,285.33 L369.89,284.04 L371.88,282.74 L373.86,281.44 L375.84,280.15 L377.83,278.85 L379.81,277.56 L381.80,276.26 L383.78,274.97 L385.77,273.68 L387.75,272.39 L389.74,271.10 L391.72,269.81 L393.70,268.53 L395.69,267.24 L397.67,265.96 L399.66,264.69 L401.64,263.41 L403.63,262.14 L405.61,260.87 L407.60,259.61 L409.58,258.35 L411.56,257.10 L413.55,255.86 L415.53,254.62 L417.52,253.39 L419.50,252.17 L421.49,250.96 L423.47,249.76 L425.46,248.57 L427.44,247.40 L429.42,246.25 L431.41,245.11 L433.39,243.99 L435.38,242.89 L437.36,241.82 L439.35,240.77 L441.33,239.74 L443.32,238.75 L445.30,237.79 L447.28,236.86 L449.27,235.97 L451.25,235.11 L453.24,234.29 L455.22,233.51 L457.21,232.78 L459.19,232.08 L461.18,231.43 L463.16,230.81 L465.14,230.24 L467.13,229.71 L469.11,229.22 L471.10,228.77 L473.08,228.36 L475.07,227.98 L477.05,227.63 L479.04,227.32 L481.02,227.04 L483.00,226.78 L484.99,226.55 L486.97,226.34 L488.96,226.16 L490.94,225.99 L492.93,225.84 L494.91,225.71 L496.90,225.60 L498.88,225.49 L500.86,225.40 L502.85,225.32 L504.83,225.24 L506.82,225.18 L508.80,225.12 L510.79,225.07 L512.77,225.03 L514.76,224.99 L516.74,224.95 L518.72,224.92 L520.71,224.90 L522.69,224.87 L524.68,224.85 L526.66,224.83 L528.65,224.82 L530.63,224.80 L532.62,224.79 L534.60,224.78"/><path d="M356.00,292.60 L357.98,291.30 L359.97,290.00 L361.95,288.70 L363.94,287.40 L365.92,286.10 L367.91,284.80 L369.89,283.50 L371.88,282.21 L373.86,280.91 L375.84,279.61 L377.83,278.32 L379.81,277.02 L381.80,275.73 L383.78,274.43 L385.77,273.14 L387.75,271.85 L389.74,270.56 L391.72,269.27 L393.70,267.99 L395.69,266.70 L397.67,265.42 L399.66,264.14 L401.64,262.86 L403.63,261.59 L405.61,260.32 L407.60,259.05 L409.58,257.79 L411.56,256.53 L413.55,255.28 L415.53,254.04 L417.52,252.81 L419.50,251.58 L421.49,250.36 L423.47,249.15 L425.46,247.96 L427.44,246.78 L429.42,245.61 L431.41,244.46 L433.39,243.33 L435.38,242.22 L437.36,241.12 L439.35,240.06 L441.33,239.02 L443.32,238.00 L445.30,237.02 L447.28,236.07 L449.27,235.15 L451.25,234.26 L453.24,233.42 L455.22,232.61 L457.21,231.85 L459.19,231.12 L461.18,230.44 L463.16,229.80 L465.14,229.20 L467.13,228.64 L469.11,228.12 L471.10,227.64 L473.08,227.21 L475.07,226.80 L477.05,226.43 L479.04,226.10 L481.02,225.80 L483.00,225.52 L484.99,225.27 L486.97,225.05 L488.96,224.85 L490.94,224.67 L492.93,224.51 L494.91,224.37 L496.90,224.24 L498.88,224.12 L500.86,224.02 L502.85,223.93 L504.83,223.86 L506.82,223.79 L508.80,223.72 L510.79,223.67 L512.77,223.62 L514.76,223.58 L516.74,223.54 L518.72,223.51 L520.71,223.48 L522.69,223.45 L524.68,223.43 L526.66,223.41 L528.65,223.39 L530.63,223.37 L532.62,223.36 L534.60,223.35"/></g>
<g font-family="Liberation Sans, Arial, sans-serif" font-size="8.6" fill="#333" stroke="#333" stroke-width="0.15"><text x="341" y="348.2">10<tspan font-size="6.2" dy="-4">0</tspan></text><text x="341" y="301.7">10<tspan font-size="6.2" dy="-4">1</tspan></text><text x="341" y="255.2">10<tspan font-size="6.2" dy="-4">2</tspan></text><text x="341" y="209.0">10<tspan font-size="6.2" dy="-4">3</tspan></text><text x="348.8" y="356.2">10<tspan font-size="6.2" dy="-4">-2</tspan></text><text x="393.4" y="356.2">10<tspan font-size="6.2" dy="-4">-1</tspan></text><text x="437.8" y="356.2">10<tspan font-size="6.2" dy="-4">0</tspan></text><text x="482.6" y="356.2">10<tspan font-size="6.2" dy="-4">1</tspan></text><text x="528.6" y="356.2">10<tspan font-size="6.2" dy="-4">2</tspan></text></g>
<text x="380.6" y="365.8" font-family="Liberation Sans, Arial, sans-serif" font-size="9.5" fill="#222" stroke="#222" stroke-width="0.2" textLength="128.8" lengthAdjust="spacingAndGlyphs">Thermal Conductivity (W/mK)</text>
<text transform="translate(338.4,346.9) rotate(-90)" font-family="Liberation Sans, Arial, sans-serif" font-size="9.4" fill="#222" stroke="#222" stroke-width="0.2" textLength="140" lengthAdjust="spacingAndGlyphs">Heat transfer coefficient (W/m<tspan font-size="6.5" dy="-3.5">2</tspan><tspan dy="3.5">K)</tspan></text>
<text x="365" y="222" font-family="Liberation Sans, Arial, sans-serif" font-size="10.2" fill="#222" stroke="#222" stroke-width="0.2" textLength="27.8" lengthAdjust="spacingAndGlyphs">N = 11</text>
<g font-family="Liberation Sans, Arial, sans-serif" font-size="10.2" fill="#222" stroke="#222" stroke-width="0.2"><text x="365" y="234.2">h</text><text x="371.6" y="237.2" font-size="7" textLength="10.5" lengthAdjust="spacingAndGlyphs">fin</text><text x="385.6" y="234.2" textLength="27.8" lengthAdjust="spacingAndGlyphs">= 5 mm</text></g>
<text x="481.6" y="218.1" font-family="Liberation Sans, Arial, sans-serif" font-size="9.4" fill="#222" stroke="#222" stroke-width="0.25" textLength="48.6" lengthAdjust="spacingAndGlyphs">v = 1.4 m/s</text>
<text x="481.4" y="271.6" font-family="Liberation Sans, Arial, sans-serif" font-size="9.4" fill="#222" stroke="#222" stroke-width="0.25" textLength="48.6" lengthAdjust="spacingAndGlyphs">v = 0.2 m/s</text>
<text x="481.4" y="285.7" font-family="Liberation Sans, Arial, sans-serif" font-size="9.4" fill="#222" stroke="#222" stroke-width="0.25" textLength="48.6" lengthAdjust="spacingAndGlyphs">v = 0.1 m/s</text>
<text x="481.5" y="333.6" font-family="Liberation Sans, Arial, sans-serif" font-size="9.4" fill="#222" stroke="#222" stroke-width="0.25" textLength="40.8" lengthAdjust="spacingAndGlyphs">v ~ 0 m/s</text>
<path d="M480.7,219.8L476.41,223.19" stroke="#111" stroke-width="1.6"/>
<path d="M472.1,226.6L474.62,220.91L478.21,225.46Z" fill="#111"/>
<path d="M478.6,268.4L475.13,265.85" stroke="#111" stroke-width="1.6"/>
<path d="M470.7,262.6L476.85,263.52L473.42,268.19Z" fill="#111"/>
<path d="M478.6,281.6L474.82,278.61" stroke="#111" stroke-width="1.6"/>
<path d="M470.5,275.2L476.61,276.33L473.02,280.89Z" fill="#111"/>
<path d="M478.2,328.9L474.57,326.13" stroke="#111" stroke-width="1.6"/>
<path d="M470.2,322.8L476.33,323.83L472.82,328.44Z" fill="#111"/>
<text x="310.4" y="192.2" font-family="Liberation Serif, Times New Roman, serif" font-size="17" fill="#111">D</text>
</g>
</svg></body></html>
